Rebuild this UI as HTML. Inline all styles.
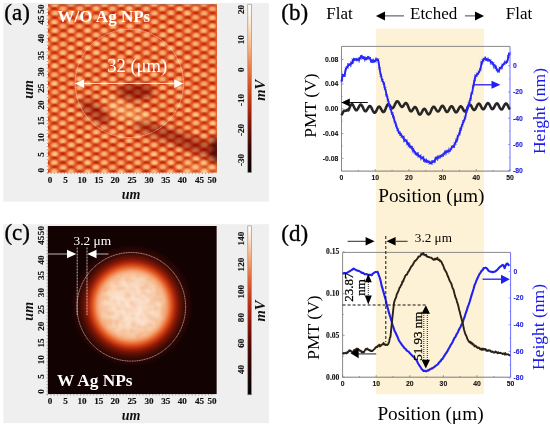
<!DOCTYPE html>
<html><head><meta charset="utf-8"><title>Figure</title>
<style>html,body{margin:0;padding:0;background:#fff;width:550px;height:428px;overflow:hidden}svg{display:block}</style>
</head><body><svg width="550" height="428" viewBox="0 0 550 428"><defs>
<radialGradient id="spot" cx="50%" cy="50%" r="50%">
 <stop offset="0" stop-color="#fdd09a"/>
 <stop offset="0.4" stop-color="#f9b479"/>
 <stop offset="0.72" stop-color="#ee8046" stop-opacity="0.8"/>
 <stop offset="1" stop-color="#e46630" stop-opacity="0"/>
</radialGradient>
<radialGradient id="dspot" cx="50%" cy="50%" r="50%">
 <stop offset="0" stop-color="#b81e04"/>
 <stop offset="0.5" stop-color="#c42c0a" stop-opacity="0.8"/>
 <stop offset="1" stop-color="#d84820" stop-opacity="0"/>
</radialGradient>
<ellipse id="bs" rx="5.3" ry="4.0" fill="url(#spot)"/>
<ellipse id="ds" rx="4.4" ry="2.8" fill="url(#dspot)"/>
<radialGradient id="tspot" cx="50%" cy="50%" r="50%"><stop offset="0" stop-color="#e8b890"/><stop offset="1" stop-color="#e8b890" stop-opacity="0"/></radialGradient>
<pattern id="tex" x="40" y="220" width="9" height="8" patternUnits="userSpaceOnUse">
 <ellipse cx="2.2" cy="2" rx="3" ry="2.2" fill="url(#tspot)"/>
 <ellipse cx="6.7" cy="6" rx="3" ry="2.2" fill="url(#tspot)"/>
</pattern>
<radialGradient id="texmask" cx="132" cy="305.5" r="40" gradientUnits="userSpaceOnUse"><stop offset="0" stop-color="#fff"/><stop offset="0.8" stop-color="#fff"/><stop offset="1" stop-color="#000"/></radialGradient>
<mask id="texm"><circle cx="132" cy="305.5" r="40" fill="url(#texmask)"/></mask>

<filter id="soft" x="0" y="0" width="100%" height="100%"><feGaussianBlur stdDeviation="0.7"/></filter>
<filter id="soft2" x="-10%" y="-10%" width="120%" height="120%"><feGaussianBlur stdDeviation="1.4"/></filter>
<filter id="blur3" x="-50%" y="-50%" width="200%" height="200%"><feGaussianBlur stdDeviation="3"/></filter>
<filter id="blur5" x="-50%" y="-50%" width="200%" height="200%"><feGaussianBlur stdDeviation="5"/></filter>
<filter id="blur8" x="-50%" y="-50%" width="200%" height="200%"><feGaussianBlur stdDeviation="8"/></filter>
<clipPath id="clipA"><rect x="48" y="4.3" width="169" height="168.5"/></clipPath>
<clipPath id="clipC"><rect x="47.6" y="226" width="169.2" height="168.3"/></clipPath>
<radialGradient id="blob" cx="132" cy="305.5" r="60" gradientUnits="userSpaceOnUse">
 <stop offset="0.000" stop-color="#fff3e8"/>
 <stop offset="0.200" stop-color="#feeee0"/>
 <stop offset="0.367" stop-color="#fde6d2"/>
 <stop offset="0.467" stop-color="#fcdcc0"/>
 <stop offset="0.533" stop-color="#f9c49c"/>
 <stop offset="0.583" stop-color="#f4a070"/>
 <stop offset="0.633" stop-color="#e86c34"/>
 <stop offset="0.683" stop-color="#cc4014"/>
 <stop offset="0.733" stop-color="#a02008"/>
 <stop offset="0.783" stop-color="#701406"/>
 <stop offset="0.850" stop-color="#440c04"/>
 <stop offset="0.917" stop-color="#2c0603"/>
 <stop offset="1.000" stop-color="#1a0302"/>
</radialGradient>
<linearGradient id="cbarC" x1="0" y1="0" x2="0" y2="1">
 <stop offset="0" stop-color="#ffffff"/>
 <stop offset="0.08" stop-color="#fbe2cc"/>
 <stop offset="0.2" stop-color="#f4a474"/>
 <stop offset="0.32" stop-color="#e26232"/>
 <stop offset="0.45" stop-color="#c03010"/>
 <stop offset="0.6" stop-color="#801004"/>
 <stop offset="0.75" stop-color="#400402"/>
 <stop offset="0.9" stop-color="#180000"/>
 <stop offset="1" stop-color="#000000"/>
</linearGradient>
<linearGradient id="cbarA" x1="0" y1="0" x2="0" y2="1">
 <stop offset="0" stop-color="#ffffff"/>
 <stop offset="0.12" stop-color="#fde6cc"/>
 <stop offset="0.25" stop-color="#f8b888"/>
 <stop offset="0.38" stop-color="#ec7a40"/>
 <stop offset="0.5" stop-color="#d44a1c"/>
 <stop offset="0.6" stop-color="#b82a0c"/>
 <stop offset="0.72" stop-color="#7c1206"/>
 <stop offset="0.85" stop-color="#380402"/>
 <stop offset="1" stop-color="#000000"/>
</linearGradient>
</defs>
<rect width="550" height="428" fill="#ffffff"/>
<rect x="3.3" y="3" width="265.7" height="198.7" fill="#efefef"/>
<rect x="3.3" y="224.2" width="265.7" height="199" fill="#efefef"/>
<g clip-path="url(#clipA)">
<g filter="url(#soft)">
<rect x="48" y="4.3" width="169" height="168.5" fill="#de5424"/>
<use href="#bs" x="46.26" y="-0.21" opacity="0.91"/>
<use href="#ds" x="54.36" y="0.02" opacity="0.81"/>
<use href="#bs" x="62.65" y="0" opacity="0.76"/>
<use href="#ds" x="71.25" y="-0.26" opacity="0.73"/>
<use href="#bs" x="79.54" y="0.2" opacity="0.78"/>
<use href="#ds" x="87.68" y="0.08" opacity="0.98"/>
<use href="#bs" x="96.26" y="-0.06" opacity="0.99"/>
<use href="#ds" x="104.14" y="0.22" opacity="0.79"/>
<use href="#bs" x="112.52" y="-0.23" opacity="0.83"/>
<use href="#ds" x="121.35" y="-0.19" opacity="0.87"/>
<use href="#bs" x="129.51" y="-0.08" opacity="0.89"/>
<use href="#ds" x="137.35" y="-0.26" opacity="0.76"/>
<use href="#bs" x="146.14" y="-0.04" opacity="0.83"/>
<use href="#ds" x="154.37" y="-0.03" opacity="0.79"/>
<use href="#bs" x="162.84" y="0.12" opacity="0.81"/>
<use href="#ds" x="170.96" y="0.02" opacity="0.96"/>
<use href="#bs" x="179.38" y="-0.13" opacity="1"/>
<use href="#ds" x="187.19" y="-0.05" opacity="0.93"/>
<use href="#bs" x="195.52" y="-0.01" opacity="0.76"/>
<use href="#ds" x="204.23" y="0.16" opacity="0.87"/>
<use href="#bs" x="212.7" y="-0.11" opacity="0.92"/>
<use href="#ds" x="220.78" y="0.05" opacity="0.84"/>
<use href="#bs" x="229.27" y="0.27" opacity="0.87"/>
<use href="#ds" x="46.53" y="4.14" opacity="0.91"/>
<use href="#bs" x="54.82" y="4.7" opacity="0.96"/>
<use href="#ds" x="62.83" y="4.33" opacity="0.9"/>
<use href="#bs" x="70.92" y="4.38" opacity="0.79"/>
<use href="#ds" x="79.29" y="4.14" opacity="0.93"/>
<use href="#bs" x="87.6" y="4.25" opacity="0.85"/>
<use href="#ds" x="96.5" y="4.15" opacity="0.83"/>
<use href="#bs" x="104.54" y="4.63" opacity="0.95"/>
<use href="#ds" x="113.09" y="4.27" opacity="0.82"/>
<use href="#bs" x="120.99" y="4.63" opacity="0.99"/>
<use href="#ds" x="129.12" y="4.21" opacity="0.77"/>
<use href="#bs" x="137.49" y="4.39" opacity="0.9"/>
<use href="#ds" x="145.81" y="4.1" opacity="0.83"/>
<use href="#bs" x="154.2" y="4.44" opacity="0.99"/>
<use href="#ds" x="162.75" y="4.41" opacity="0.89"/>
<use href="#bs" x="171.04" y="4.13" opacity="0.97"/>
<use href="#ds" x="179.42" y="4.62" opacity="0.94"/>
<use href="#bs" x="187.41" y="4.34" opacity="0.78"/>
<use href="#ds" x="195.91" y="4.14" opacity="0.72"/>
<use href="#bs" x="203.87" y="4.2" opacity="0.84"/>
<use href="#ds" x="212.04" y="4.1" opacity="0.75"/>
<use href="#bs" x="220.38" y="4.32" opacity="0.76"/>
<use href="#ds" x="229.3" y="4.47" opacity="0.74"/>
<use href="#bs" x="46.2" y="8.71" opacity="0.84"/>
<use href="#ds" x="54.4" y="9.01" opacity="1"/>
<use href="#bs" x="62.97" y="8.79" opacity="0.77"/>
<use href="#ds" x="70.98" y="8.71" opacity="0.78"/>
<use href="#bs" x="79.86" y="8.6" opacity="0.76"/>
<use href="#ds" x="88.26" y="8.82" opacity="0.74"/>
<use href="#bs" x="96.23" y="8.52" opacity="0.88"/>
<use href="#ds" x="104.88" y="9.02" opacity="0.91"/>
<use href="#bs" x="112.61" y="8.72" opacity="0.79"/>
<use href="#ds" x="121.32" y="8.82" opacity="0.93"/>
<use href="#bs" x="129.26" y="8.63" opacity="0.95"/>
<use href="#ds" x="138.09" y="9.01" opacity="0.94"/>
<use href="#bs" x="146.25" y="8.94" opacity="0.81"/>
<use href="#ds" x="154.31" y="8.71" opacity="0.71"/>
<use href="#bs" x="162.22" y="8.67" opacity="0.81"/>
<use href="#ds" x="171.05" y="9.07" opacity="0.83"/>
<use href="#bs" x="179.55" y="9.09" opacity="0.99"/>
<use href="#ds" x="187.39" y="8.63" opacity="0.77"/>
<use href="#bs" x="195.56" y="8.62" opacity="0.91"/>
<use href="#ds" x="204.42" y="9" opacity="0.84"/>
<use href="#bs" x="212.52" y="8.98" opacity="0.77"/>
<use href="#ds" x="220.83" y="9.05" opacity="0.93"/>
<use href="#bs" x="229.2" y="8.79" opacity="0.79"/>
<use href="#ds" x="46.63" y="13.1" opacity="0.94"/>
<use href="#bs" x="55.08" y="13.14" opacity="0.85"/>
<use href="#ds" x="63.36" y="13.33" opacity="0.75"/>
<use href="#bs" x="71" y="12.99" opacity="0.98"/>
<use href="#ds" x="79.85" y="12.99" opacity="0.95"/>
<use href="#bs" x="88.28" y="13.29" opacity="0.84"/>
<use href="#ds" x="96.24" y="12.98" opacity="0.7"/>
<use href="#bs" x="104.88" y="13.29" opacity="0.88"/>
<use href="#ds" x="113.15" y="13.16" opacity="0.96"/>
<use href="#bs" x="121.36" y="13.03" opacity="0.81"/>
<use href="#ds" x="129.23" y="13.04" opacity="0.88"/>
<use href="#bs" x="137.51" y="13.15" opacity="0.78"/>
<use href="#ds" x="146.33" y="13.11" opacity="0.84"/>
<use href="#bs" x="154.37" y="13.44" opacity="0.86"/>
<use href="#ds" x="162.93" y="13.2" opacity="0.86"/>
<use href="#bs" x="170.92" y="12.91" opacity="0.86"/>
<use href="#ds" x="178.95" y="12.9" opacity="0.94"/>
<use href="#bs" x="187.24" y="13.18" opacity="0.93"/>
<use href="#ds" x="195.85" y="13.1" opacity="0.86"/>
<use href="#bs" x="204.14" y="13.37" opacity="0.78"/>
<use href="#ds" x="212.45" y="13.05" opacity="0.78"/>
<use href="#bs" x="220.92" y="13.2" opacity="0.89"/>
<use href="#ds" x="229.21" y="13.45" opacity="0.83"/>
<use href="#bs" x="46.49" y="17.6" opacity="0.88"/>
<use href="#ds" x="54.85" y="17.57" opacity="0.86"/>
<use href="#bs" x="62.98" y="17.86" opacity="0.92"/>
<use href="#ds" x="71.6" y="17.87" opacity="0.78"/>
<use href="#bs" x="79.65" y="17.87" opacity="0.96"/>
<use href="#ds" x="87.61" y="17.37" opacity="0.83"/>
<use href="#bs" x="95.86" y="17.44" opacity="0.77"/>
<use href="#ds" x="104.64" y="17.77" opacity="0.97"/>
<use href="#bs" x="112.52" y="17.73" opacity="0.92"/>
<use href="#ds" x="120.81" y="17.83" opacity="0.99"/>
<use href="#bs" x="129.18" y="17.87" opacity="0.85"/>
<use href="#ds" x="137.69" y="17.89" opacity="0.95"/>
<use href="#bs" x="145.73" y="17.56" opacity="0.88"/>
<use href="#ds" x="154.17" y="17.42" opacity="0.8"/>
<use href="#bs" x="162.78" y="17.31" opacity="0.89"/>
<use href="#ds" x="170.85" y="17.31" opacity="0.8"/>
<use href="#bs" x="179.3" y="17.61" opacity="0.77"/>
<use href="#ds" x="187.89" y="17.77" opacity="0.99"/>
<use href="#bs" x="195.48" y="17.46" opacity="0.76"/>
<use href="#ds" x="204.32" y="17.46" opacity="0.74"/>
<use href="#bs" x="212.34" y="17.85" opacity="0.95"/>
<use href="#ds" x="220.51" y="17.39" opacity="0.98"/>
<use href="#bs" x="229.06" y="17.72" opacity="0.77"/>
<use href="#ds" x="46.05" y="22.11" opacity="0.83"/>
<use href="#bs" x="54.36" y="22.26" opacity="0.91"/>
<use href="#ds" x="63.24" y="21.75" opacity="0.96"/>
<use href="#bs" x="70.95" y="22.22" opacity="0.86"/>
<use href="#ds" x="79.47" y="22.03" opacity="0.98"/>
<use href="#bs" x="87.71" y="21.78" opacity="0.88"/>
<use href="#ds" x="95.99" y="21.77" opacity="0.75"/>
<use href="#bs" x="104.14" y="21.82" opacity="0.83"/>
<use href="#ds" x="112.64" y="22.16" opacity="0.79"/>
<use href="#bs" x="121.1" y="21.81" opacity="0.84"/>
<use href="#ds" x="129.01" y="21.85" opacity="0.7"/>
<use href="#bs" x="137.89" y="22.03" opacity="0.8"/>
<use href="#ds" x="145.98" y="22.26" opacity="0.73"/>
<use href="#bs" x="154.56" y="21.96" opacity="0.87"/>
<use href="#ds" x="162.87" y="21.94" opacity="0.85"/>
<use href="#bs" x="171.05" y="22.29" opacity="0.84"/>
<use href="#ds" x="179.47" y="22.12" opacity="0.89"/>
<use href="#bs" x="187.42" y="21.91" opacity="0.76"/>
<use href="#ds" x="195.5" y="21.74" opacity="0.92"/>
<use href="#bs" x="203.9" y="21.8" opacity="0.77"/>
<use href="#ds" x="212.67" y="22.22" opacity="0.9"/>
<use href="#bs" x="220.53" y="21.85" opacity="0.82"/>
<use href="#ds" x="228.97" y="21.79" opacity="0.83"/>
<use href="#bs" x="46.21" y="26.68" opacity="0.99"/>
<use href="#ds" x="54.74" y="26.25" opacity="0.99"/>
<use href="#bs" x="62.85" y="26.31" opacity="0.75"/>
<use href="#ds" x="71.21" y="26.38" opacity="0.85"/>
<use href="#bs" x="79.36" y="26.4" opacity="0.75"/>
<use href="#ds" x="87.71" y="26.15" opacity="0.82"/>
<use href="#bs" x="95.83" y="26.11" opacity="0.83"/>
<use href="#ds" x="104.29" y="26.45" opacity="0.86"/>
<use href="#bs" x="113" y="26.49" opacity="0.93"/>
<use href="#ds" x="121.4" y="26.33" opacity="0.8"/>
<use href="#bs" x="129.79" y="26.19" opacity="0.93"/>
<use href="#ds" x="137.81" y="26.13" opacity="0.95"/>
<use href="#bs" x="146.31" y="26.48" opacity="0.93"/>
<use href="#ds" x="154.55" y="26.18" opacity="0.86"/>
<use href="#bs" x="162.6" y="26.6" opacity="0.95"/>
<use href="#ds" x="171.16" y="26.45" opacity="0.97"/>
<use href="#bs" x="179.35" y="26.52" opacity="0.81"/>
<use href="#ds" x="187.12" y="26.18" opacity="0.81"/>
<use href="#bs" x="195.48" y="26.6" opacity="0.89"/>
<use href="#ds" x="204.2" y="26.48" opacity="0.9"/>
<use href="#bs" x="212.39" y="26.1" opacity="0.95"/>
<use href="#ds" x="220.9" y="26.4" opacity="0.86"/>
<use href="#bs" x="229.13" y="26.14" opacity="0.93"/>
<use href="#ds" x="46.2" y="30.54" opacity="0.78"/>
<use href="#bs" x="54.88" y="30.62" opacity="0.93"/>
<use href="#ds" x="63.38" y="30.8" opacity="0.81"/>
<use href="#bs" x="71.28" y="30.91" opacity="0.94"/>
<use href="#ds" x="79.69" y="30.89" opacity="0.72"/>
<use href="#bs" x="87.62" y="30.65" opacity="0.94"/>
<use href="#ds" x="96.04" y="30.84" opacity="0.7"/>
<use href="#bs" x="104.15" y="30.66" opacity="0.92"/>
<use href="#ds" x="112.95" y="30.91" opacity="0.79"/>
<use href="#bs" x="121.11" y="30.78" opacity="0.87"/>
<use href="#ds" x="129.09" y="31.04" opacity="0.76"/>
<use href="#bs" x="138.08" y="31.06" opacity="0.75"/>
<use href="#ds" x="145.97" y="30.99" opacity="0.99"/>
<use href="#bs" x="154.26" y="30.66" opacity="0.8"/>
<use href="#ds" x="162.96" y="30.63" opacity="0.87"/>
<use href="#bs" x="170.61" y="30.81" opacity="0.99"/>
<use href="#ds" x="178.91" y="30.99" opacity="0.85"/>
<use href="#bs" x="187.81" y="30.92" opacity="0.81"/>
<use href="#ds" x="196.12" y="30.79" opacity="0.71"/>
<use href="#bs" x="203.7" y="30.8" opacity="0.86"/>
<use href="#ds" x="212.24" y="30.58" opacity="0.8"/>
<use href="#bs" x="220.55" y="31" opacity="0.75"/>
<use href="#ds" x="229.2" y="31" opacity="0.74"/>
<use href="#bs" x="46.74" y="35.33" opacity="0.98"/>
<use href="#ds" x="54.53" y="35.12" opacity="0.82"/>
<use href="#bs" x="63.4" y="35.25" opacity="0.84"/>
<use href="#ds" x="71.24" y="35.07" opacity="0.71"/>
<use href="#bs" x="79.28" y="35.4" opacity="0.82"/>
<use href="#ds" x="88.25" y="35.05" opacity="0.78"/>
<use href="#bs" x="96.21" y="35.01" opacity="0.84"/>
<use href="#ds" x="104.86" y="35.43" opacity="0.94"/>
<use href="#bs" x="112.9" y="35.45" opacity="0.99"/>
<use href="#ds" x="121.14" y="35.33" opacity="0.71"/>
<use href="#bs" x="129.59" y="35.17" opacity="0.94"/>
<use href="#ds" x="137.82" y="35.07" opacity="0.71"/>
<use href="#bs" x="146.34" y="34.98" opacity="0.87"/>
<use href="#ds" x="154.17" y="35.08" opacity="0.92"/>
<use href="#bs" x="162.98" y="35.06" opacity="0.91"/>
<use href="#ds" x="170.74" y="35.23" opacity="0.82"/>
<use href="#bs" x="178.93" y="35" opacity="0.8"/>
<use href="#ds" x="187.82" y="35.2" opacity="0.77"/>
<use href="#bs" x="196.13" y="35.5" opacity="0.86"/>
<use href="#ds" x="203.81" y="35.02" opacity="0.73"/>
<use href="#bs" x="212.27" y="34.95" opacity="0.81"/>
<use href="#ds" x="220.51" y="35.24" opacity="0.97"/>
<use href="#bs" x="229.2" y="35.15" opacity="0.85"/>
<use href="#ds" x="46.42" y="39.53" opacity="0.8"/>
<use href="#bs" x="54.35" y="39.47" opacity="0.99"/>
<use href="#ds" x="62.7" y="39.6" opacity="0.89"/>
<use href="#bs" x="71.59" y="39.43" opacity="0.82"/>
<use href="#ds" x="79.4" y="39.54" opacity="0.83"/>
<use href="#bs" x="88.26" y="39.81" opacity="0.97"/>
<use href="#ds" x="95.82" y="39.32" opacity="0.91"/>
<use href="#bs" x="104.82" y="39.58" opacity="0.9"/>
<use href="#ds" x="112.4" y="39.53" opacity="0.98"/>
<use href="#bs" x="121.36" y="39.81" opacity="0.99"/>
<use href="#ds" x="129.2" y="39.37" opacity="0.75"/>
<use href="#bs" x="137.72" y="39.71" opacity="0.99"/>
<use href="#ds" x="146.18" y="39.69" opacity="0.93"/>
<use href="#bs" x="154.27" y="39.63" opacity="0.76"/>
<use href="#ds" x="162.83" y="39.44" opacity="0.98"/>
<use href="#bs" x="171.02" y="39.48" opacity="0.78"/>
<use href="#ds" x="179" y="39.68" opacity="0.91"/>
<use href="#bs" x="187.19" y="39.34" opacity="0.88"/>
<use href="#ds" x="195.87" y="39.53" opacity="0.77"/>
<use href="#bs" x="204.18" y="39.31" opacity="0.83"/>
<use href="#ds" x="212.37" y="39.88" opacity="0.89"/>
<use href="#bs" x="221.01" y="39.59" opacity="0.81"/>
<use href="#ds" x="228.8" y="39.88" opacity="0.91"/>
<use href="#bs" x="46.25" y="43.71" opacity="0.87"/>
<use href="#ds" x="54.84" y="43.95" opacity="0.78"/>
<use href="#bs" x="63.13" y="44.26" opacity="0.81"/>
<use href="#ds" x="70.93" y="43.9" opacity="0.83"/>
<use href="#bs" x="79.75" y="43.82" opacity="0.95"/>
<use href="#ds" x="88.09" y="44" opacity="0.76"/>
<use href="#bs" x="96.58" y="43.89" opacity="0.96"/>
<use href="#ds" x="104.28" y="43.83" opacity="0.93"/>
<use href="#bs" x="112.64" y="44.27" opacity="0.87"/>
<use href="#ds" x="120.85" y="43.83" opacity="0.83"/>
<use href="#bs" x="129.53" y="44.27" opacity="0.79"/>
<use href="#ds" x="137.61" y="43.83" opacity="0.99"/>
<use href="#bs" x="145.71" y="43.73" opacity="0.77"/>
<use href="#ds" x="154.21" y="44.24" opacity="0.97"/>
<use href="#bs" x="162.79" y="44.3" opacity="0.98"/>
<use href="#ds" x="170.76" y="43.81" opacity="0.98"/>
<use href="#bs" x="179.4" y="43.72" opacity="0.92"/>
<use href="#ds" x="187.4" y="43.92" opacity="0.8"/>
<use href="#bs" x="195.54" y="43.7" opacity="0.82"/>
<use href="#ds" x="203.98" y="44.27" opacity="0.74"/>
<use href="#bs" x="212.77" y="43.82" opacity="0.84"/>
<use href="#ds" x="220.96" y="44.19" opacity="0.83"/>
<use href="#bs" x="228.64" y="43.98" opacity="0.84"/>
<use href="#ds" x="46.74" y="48.22" opacity="0.81"/>
<use href="#bs" x="55.02" y="48.12" opacity="0.85"/>
<use href="#ds" x="63.25" y="48.56" opacity="0.71"/>
<use href="#bs" x="70.93" y="48.14" opacity="0.98"/>
<use href="#ds" x="79.41" y="48.55" opacity="0.97"/>
<use href="#bs" x="87.77" y="48.26" opacity="0.99"/>
<use href="#ds" x="96.29" y="48.26" opacity="0.91"/>
<use href="#bs" x="104.35" y="48.27" opacity="0.75"/>
<use href="#ds" x="113" y="48.65" opacity="0.89"/>
<use href="#bs" x="121.45" y="48.11" opacity="0.81"/>
<use href="#ds" x="129.38" y="48.67" opacity="0.99"/>
<use href="#bs" x="137.61" y="48.25" opacity="0.86"/>
<use href="#ds" x="145.99" y="48.66" opacity="0.75"/>
<use href="#bs" x="154.54" y="48.54" opacity="0.96"/>
<use href="#ds" x="162.82" y="48.46" opacity="0.8"/>
<use href="#bs" x="170.76" y="48.32" opacity="0.95"/>
<use href="#ds" x="178.86" y="48.22" opacity="0.93"/>
<use href="#bs" x="187.3" y="48.14" opacity="0.76"/>
<use href="#ds" x="195.84" y="48.3" opacity="0.99"/>
<use href="#bs" x="204.41" y="48.69" opacity="0.82"/>
<use href="#ds" x="212.07" y="48.16" opacity="0.85"/>
<use href="#bs" x="220.87" y="48.37" opacity="0.81"/>
<use href="#ds" x="228.93" y="48.47" opacity="0.9"/>
<use href="#bs" x="46.6" y="53.01" opacity="0.92"/>
<use href="#ds" x="54.4" y="53" opacity="0.79"/>
<use href="#bs" x="63.05" y="52.72" opacity="0.93"/>
<use href="#ds" x="71.06" y="52.65" opacity="0.77"/>
<use href="#bs" x="79.32" y="53.03" opacity="0.89"/>
<use href="#ds" x="87.76" y="52.74" opacity="1"/>
<use href="#bs" x="96.21" y="52.64" opacity="0.95"/>
<use href="#ds" x="104.62" y="53.09" opacity="0.73"/>
<use href="#bs" x="112.78" y="52.99" opacity="0.96"/>
<use href="#ds" x="121.43" y="52.52" opacity="0.79"/>
<use href="#bs" x="129.1" y="52.61" opacity="0.99"/>
<use href="#ds" x="137.77" y="53.06" opacity="0.81"/>
<use href="#bs" x="146.29" y="52.77" opacity="0.81"/>
<use href="#ds" x="154.52" y="53.07" opacity="0.73"/>
<use href="#bs" x="162.68" y="52.87" opacity="0.8"/>
<use href="#ds" x="170.79" y="52.58" opacity="0.76"/>
<use href="#bs" x="179" y="52.86" opacity="0.91"/>
<use href="#ds" x="187.26" y="52.51" opacity="0.8"/>
<use href="#bs" x="195.94" y="52.61" opacity="0.83"/>
<use href="#ds" x="203.86" y="52.98" opacity="0.86"/>
<use href="#bs" x="212.05" y="52.56" opacity="0.85"/>
<use href="#ds" x="220.74" y="52.88" opacity="0.73"/>
<use href="#bs" x="228.73" y="52.92" opacity="0.85"/>
<use href="#ds" x="46.23" y="57.08" opacity="0.99"/>
<use href="#bs" x="54.55" y="57.24" opacity="0.84"/>
<use href="#ds" x="62.93" y="57.42" opacity="1"/>
<use href="#bs" x="71.19" y="57.02" opacity="0.93"/>
<use href="#ds" x="79.36" y="56.9" opacity="0.97"/>
<use href="#bs" x="87.84" y="57.39" opacity="0.85"/>
<use href="#ds" x="96.51" y="57.18" opacity="0.75"/>
<use href="#bs" x="104.11" y="57.23" opacity="0.91"/>
<use href="#ds" x="113.13" y="56.95" opacity="0.89"/>
<use href="#bs" x="121" y="57.2" opacity="0.79"/>
<use href="#ds" x="129.23" y="57.21" opacity="0.98"/>
<use href="#bs" x="137.39" y="57.19" opacity="0.95"/>
<use href="#ds" x="146.37" y="57.02" opacity="0.74"/>
<use href="#bs" x="154.65" y="57.49" opacity="0.87"/>
<use href="#ds" x="162.24" y="57.46" opacity="0.82"/>
<use href="#bs" x="171.22" y="57.27" opacity="0.96"/>
<use href="#ds" x="178.93" y="57.37" opacity="0.77"/>
<use href="#bs" x="187.42" y="57.41" opacity="0.96"/>
<use href="#ds" x="195.55" y="57.03" opacity="0.82"/>
<use href="#bs" x="204.11" y="57.13" opacity="0.78"/>
<use href="#ds" x="212.2" y="57.33" opacity="0.97"/>
<use href="#bs" x="220.33" y="57.24" opacity="0.94"/>
<use href="#ds" x="228.63" y="57.4" opacity="0.74"/>
<use href="#bs" x="46.48" y="61.63" opacity="0.91"/>
<use href="#ds" x="54.54" y="61.55" opacity="0.87"/>
<use href="#bs" x="62.94" y="61.7" opacity="0.86"/>
<use href="#ds" x="71.25" y="61.31" opacity="0.89"/>
<use href="#bs" x="79.59" y="61.44" opacity="0.94"/>
<use href="#ds" x="88.12" y="61.57" opacity="0.75"/>
<use href="#bs" x="96.18" y="61.36" opacity="0.78"/>
<use href="#ds" x="104.44" y="61.36" opacity="0.83"/>
<use href="#bs" x="112.81" y="61.32" opacity="0.91"/>
<use href="#ds" x="120.77" y="61.74" opacity="0.93"/>
<use href="#bs" x="129.41" y="61.33" opacity="0.88"/>
<use href="#ds" x="137.6" y="61.87" opacity="0.74"/>
<use href="#bs" x="146.29" y="61.9" opacity="0.93"/>
<use href="#ds" x="154.55" y="61.42" opacity="0.99"/>
<use href="#bs" x="162.59" y="61.87" opacity="0.98"/>
<use href="#ds" x="170.63" y="61.77" opacity="0.98"/>
<use href="#bs" x="178.85" y="61.51" opacity="0.94"/>
<use href="#ds" x="187.23" y="61.84" opacity="0.78"/>
<use href="#bs" x="196.05" y="61.39" opacity="0.88"/>
<use href="#ds" x="204.44" y="61.42" opacity="0.78"/>
<use href="#bs" x="212.4" y="61.49" opacity="0.76"/>
<use href="#ds" x="220.45" y="61.4" opacity="0.98"/>
<use href="#bs" x="229.14" y="61.84" opacity="0.79"/>
<use href="#ds" x="46.63" y="65.77" opacity="0.86"/>
<use href="#bs" x="54.81" y="65.92" opacity="0.97"/>
<use href="#ds" x="63.04" y="66.05" opacity="0.96"/>
<use href="#bs" x="70.98" y="66.3" opacity="0.91"/>
<use href="#ds" x="79.52" y="66.18" opacity="0.78"/>
<use href="#bs" x="88.29" y="66.05" opacity="0.84"/>
<use href="#ds" x="96.41" y="65.97" opacity="0.75"/>
<use href="#bs" x="104.69" y="65.73" opacity="0.95"/>
<use href="#ds" x="112.6" y="66.08" opacity="1"/>
<use href="#bs" x="121.17" y="66.1" opacity="0.83"/>
<use href="#ds" x="129" y="65.72" opacity="0.74"/>
<use href="#bs" x="137.79" y="65.96" opacity="0.88"/>
<use href="#ds" x="146.32" y="65.78" opacity="0.77"/>
<use href="#bs" x="154.42" y="65.71" opacity="0.75"/>
<use href="#ds" x="162.48" y="65.76" opacity="0.81"/>
<use href="#bs" x="170.68" y="66.05" opacity="0.9"/>
<use href="#ds" x="178.96" y="66.07" opacity="0.84"/>
<use href="#bs" x="187.21" y="66.26" opacity="0.81"/>
<use href="#ds" x="195.52" y="65.76" opacity="0.89"/>
<use href="#bs" x="204.4" y="66.17" opacity="0.85"/>
<use href="#ds" x="212.21" y="65.71" opacity="0.89"/>
<use href="#bs" x="220.75" y="65.91" opacity="0.91"/>
<use href="#ds" x="228.96" y="66.26" opacity="0.92"/>
<use href="#bs" x="46.2" y="70.64" opacity="0.76"/>
<use href="#ds" x="54.73" y="70.34" opacity="0.77"/>
<use href="#bs" x="62.65" y="70.57" opacity="0.75"/>
<use href="#ds" x="71.34" y="70.66" opacity="0.74"/>
<use href="#bs" x="79.36" y="70.46" opacity="0.88"/>
<use href="#ds" x="88.01" y="70.59" opacity="0.75"/>
<use href="#bs" x="96.05" y="70.28" opacity="0.76"/>
<use href="#ds" x="104.81" y="70.57" opacity="0.91"/>
<use href="#bs" x="112.41" y="70.61" opacity="0.94"/>
<use href="#ds" x="121.07" y="70.55" opacity="0.84"/>
<use href="#bs" x="129.18" y="70.16" opacity="0.81"/>
<use href="#ds" x="137.33" y="70.3" opacity="0.92"/>
<use href="#bs" x="146.16" y="70.61" opacity="0.93"/>
<use href="#ds" x="154.11" y="70.43" opacity="0.83"/>
<use href="#bs" x="162.83" y="70.41" opacity="0.82"/>
<use href="#ds" x="171.01" y="70.68" opacity="0.77"/>
<use href="#bs" x="179.5" y="70.11" opacity="0.82"/>
<use href="#ds" x="187.29" y="70.55" opacity="0.98"/>
<use href="#bs" x="196" y="70.3" opacity="0.97"/>
<use href="#ds" x="203.96" y="70.24" opacity="0.97"/>
<use href="#bs" x="212.5" y="70.52" opacity="0.92"/>
<use href="#ds" x="221.08" y="70.38" opacity="0.95"/>
<use href="#bs" x="229.16" y="70.61" opacity="0.86"/>
<use href="#ds" x="46.58" y="74.84" opacity="0.79"/>
<use href="#bs" x="54.47" y="74.87" opacity="0.77"/>
<use href="#ds" x="63.33" y="74.59" opacity="0.71"/>
<use href="#bs" x="70.99" y="75.06" opacity="0.84"/>
<use href="#ds" x="79.31" y="74.52" opacity="0.71"/>
<use href="#bs" x="88.05" y="74.88" opacity="0.92"/>
<use href="#ds" x="96.39" y="74.54" opacity="0.88"/>
<use href="#bs" x="104.39" y="74.99" opacity="0.95"/>
<use href="#ds" x="113.11" y="74.54" opacity="0.96"/>
<use href="#bs" x="121.43" y="75.07" opacity="0.78"/>
<use href="#ds" x="129.16" y="74.57" opacity="0.71"/>
<use href="#bs" x="137.98" y="74.99" opacity="0.91"/>
<use href="#ds" x="146.26" y="74.88" opacity="0.79"/>
<use href="#bs" x="153.98" y="74.56" opacity="0.94"/>
<use href="#ds" x="162.36" y="74.69" opacity="0.83"/>
<use href="#bs" x="170.52" y="74.65" opacity="0.82"/>
<use href="#ds" x="179.37" y="74.72" opacity="0.8"/>
<use href="#bs" x="187.87" y="74.8" opacity="0.96"/>
<use href="#ds" x="195.89" y="74.52" opacity="0.82"/>
<use href="#bs" x="204.05" y="74.96" opacity="0.84"/>
<use href="#ds" x="212.56" y="74.82" opacity="0.76"/>
<use href="#bs" x="220.99" y="74.55" opacity="0.95"/>
<use href="#ds" x="228.74" y="74.5" opacity="0.76"/>
<use href="#bs" x="46.61" y="79.49" opacity="0.75"/>
<use href="#ds" x="54.69" y="79.19" opacity="0.94"/>
<use href="#bs" x="62.75" y="79.2" opacity="0.84"/>
<use href="#ds" x="71.57" y="79.06" opacity="0.98"/>
<use href="#bs" x="79.43" y="79.03" opacity="0.92"/>
<use href="#ds" x="87.9" y="78.97" opacity="0.89"/>
<use href="#bs" x="95.86" y="79.37" opacity="0.92"/>
<use href="#ds" x="104.73" y="79.28" opacity="0.81"/>
<use href="#bs" x="112.72" y="79.14" opacity="0.97"/>
<use href="#ds" x="120.77" y="79.43" opacity="0.71"/>
<use href="#bs" x="129.16" y="79.06" opacity="0.98"/>
<use href="#ds" x="137.7" y="79.13" opacity="0.97"/>
<use href="#bs" x="145.79" y="79.18" opacity="0.88"/>
<use href="#ds" x="154.5" y="79.35" opacity="0.89"/>
<use href="#bs" x="162.48" y="79.1" opacity="0.79"/>
<use href="#ds" x="171.17" y="79.3" opacity="0.92"/>
<use href="#bs" x="178.94" y="79.16" opacity="0.94"/>
<use href="#ds" x="187.56" y="78.98" opacity="0.84"/>
<use href="#bs" x="196.11" y="79.04" opacity="0.8"/>
<use href="#ds" x="203.94" y="79.32" opacity="0.95"/>
<use href="#bs" x="212.12" y="78.99" opacity="0.81"/>
<use href="#ds" x="220.56" y="79.21" opacity="0.75"/>
<use href="#bs" x="228.86" y="79.01" opacity="0.99"/>
<use href="#ds" x="46.58" y="83.36" opacity="0.99"/>
<use href="#bs" x="54.38" y="83.53" opacity="1"/>
<use href="#ds" x="63.24" y="83.74" opacity="0.83"/>
<use href="#bs" x="71.06" y="83.68" opacity="0.78"/>
<use href="#ds" x="79.37" y="83.53" opacity="0.71"/>
<use href="#bs" x="87.82" y="83.77" opacity="0.92"/>
<use href="#ds" x="96.2" y="83.68" opacity="0.84"/>
<use href="#bs" x="104.21" y="83.66" opacity="0.85"/>
<use href="#ds" x="112.99" y="83.84" opacity="0.83"/>
<use href="#bs" x="121.16" y="83.75" opacity="0.86"/>
<use href="#ds" x="129.18" y="83.73" opacity="0.96"/>
<use href="#bs" x="137.92" y="83.72" opacity="0.96"/>
<use href="#ds" x="146.14" y="83.68" opacity="0.84"/>
<use href="#bs" x="154.15" y="83.68" opacity="0.77"/>
<use href="#ds" x="162.54" y="83.77" opacity="0.91"/>
<use href="#bs" x="171" y="83.45" opacity="0.86"/>
<use href="#ds" x="179.16" y="83.67" opacity="0.82"/>
<use href="#bs" x="187.64" y="83.86" opacity="0.8"/>
<use href="#ds" x="195.92" y="83.77" opacity="0.82"/>
<use href="#bs" x="204.09" y="83.88" opacity="0.76"/>
<use href="#ds" x="212.43" y="83.4" opacity="0.93"/>
<use href="#bs" x="221.05" y="83.61" opacity="0.78"/>
<use href="#ds" x="229.06" y="83.62" opacity="0.92"/>
<use href="#bs" x="46.41" y="88.08" opacity="0.96"/>
<use href="#ds" x="54.72" y="87.95" opacity="0.98"/>
<use href="#bs" x="62.77" y="88.11" opacity="0.85"/>
<use href="#ds" x="71.51" y="87.77" opacity="1"/>
<use href="#bs" x="79.48" y="87.73" opacity="0.82"/>
<use href="#ds" x="87.82" y="87.71" opacity="0.83"/>
<use href="#bs" x="96.14" y="88.12" opacity="0.84"/>
<use href="#ds" x="104.31" y="87.83" opacity="0.92"/>
<use href="#bs" x="113.15" y="88.02" opacity="0.8"/>
<use href="#ds" x="121.34" y="87.94" opacity="0.76"/>
<use href="#bs" x="129.1" y="88.17" opacity="0.95"/>
<use href="#ds" x="137.81" y="87.98" opacity="0.87"/>
<use href="#bs" x="145.78" y="88.28" opacity="0.84"/>
<use href="#ds" x="154.41" y="88.19" opacity="0.94"/>
<use href="#bs" x="162.57" y="87.88" opacity="0.89"/>
<use href="#ds" x="170.6" y="88.2" opacity="0.81"/>
<use href="#bs" x="179.48" y="87.86" opacity="0.84"/>
<use href="#ds" x="187.3" y="87.96" opacity="0.76"/>
<use href="#bs" x="195.4" y="88.13" opacity="0.82"/>
<use href="#ds" x="203.9" y="87.88" opacity="0.84"/>
<use href="#bs" x="212.34" y="88.08" opacity="0.91"/>
<use href="#ds" x="220.59" y="88.26" opacity="0.96"/>
<use href="#bs" x="228.65" y="88.2" opacity="0.98"/>
<use href="#ds" x="46.63" y="92.18" opacity="0.95"/>
<use href="#bs" x="54.81" y="92.11" opacity="0.75"/>
<use href="#ds" x="63.36" y="92.49" opacity="0.78"/>
<use href="#bs" x="70.98" y="92.19" opacity="0.81"/>
<use href="#ds" x="79.82" y="92.31" opacity="0.75"/>
<use href="#bs" x="88.22" y="92.58" opacity="0.79"/>
<use href="#ds" x="96.51" y="92.47" opacity="0.93"/>
<use href="#bs" x="104.63" y="92.64" opacity="0.95"/>
<use href="#ds" x="113.07" y="92.22" opacity="0.91"/>
<use href="#bs" x="121.12" y="92.55" opacity="0.86"/>
<use href="#ds" x="129.71" y="92.43" opacity="0.78"/>
<use href="#bs" x="137.49" y="92.18" opacity="0.87"/>
<use href="#ds" x="145.65" y="92.38" opacity="0.74"/>
<use href="#bs" x="154.29" y="92.4" opacity="0.88"/>
<use href="#ds" x="162.89" y="92.1" opacity="0.95"/>
<use href="#bs" x="170.87" y="92.44" opacity="0.92"/>
<use href="#ds" x="179.47" y="92.32" opacity="0.83"/>
<use href="#bs" x="187.87" y="92.15" opacity="0.91"/>
<use href="#ds" x="195.91" y="92.12" opacity="0.88"/>
<use href="#bs" x="204.25" y="92.66" opacity="0.83"/>
<use href="#ds" x="212.79" y="92.41" opacity="0.85"/>
<use href="#bs" x="221.02" y="92.12" opacity="0.93"/>
<use href="#ds" x="229.1" y="92.3" opacity="0.96"/>
<use href="#bs" x="46.29" y="96.78" opacity="0.88"/>
<use href="#ds" x="54.92" y="96.63" opacity="0.83"/>
<use href="#bs" x="62.94" y="96.83" opacity="0.96"/>
<use href="#ds" x="71.13" y="97" opacity="0.82"/>
<use href="#bs" x="79.6" y="96.66" opacity="0.88"/>
<use href="#ds" x="88.28" y="96.89" opacity="0.94"/>
<use href="#bs" x="96.06" y="96.69" opacity="0.82"/>
<use href="#ds" x="104.57" y="96.88" opacity="0.94"/>
<use href="#bs" x="112.43" y="96.93" opacity="0.97"/>
<use href="#ds" x="121.14" y="96.53" opacity="0.79"/>
<use href="#bs" x="129" y="96.61" opacity="0.98"/>
<use href="#ds" x="137.79" y="96.89" opacity="0.94"/>
<use href="#bs" x="146.33" y="96.87" opacity="0.9"/>
<use href="#ds" x="154.4" y="96.92" opacity="0.88"/>
<use href="#bs" x="162.74" y="96.63" opacity="0.92"/>
<use href="#ds" x="170.87" y="96.96" opacity="0.73"/>
<use href="#bs" x="178.95" y="96.52" opacity="0.94"/>
<use href="#ds" x="187.83" y="96.89" opacity="0.81"/>
<use href="#bs" x="196.06" y="96.97" opacity="0.89"/>
<use href="#ds" x="203.91" y="96.68" opacity="0.83"/>
<use href="#bs" x="212.25" y="96.76" opacity="0.91"/>
<use href="#ds" x="221.05" y="96.53" opacity="0.87"/>
<use href="#bs" x="228.63" y="96.57" opacity="0.95"/>
<use href="#ds" x="46.46" y="101.45" opacity="0.83"/>
<use href="#bs" x="54.31" y="101.13" opacity="0.9"/>
<use href="#ds" x="63.35" y="101.49" opacity="0.84"/>
<use href="#bs" x="71.23" y="100.96" opacity="0.91"/>
<use href="#ds" x="79.37" y="100.99" opacity="0.7"/>
<use href="#bs" x="87.5" y="101.31" opacity="0.78"/>
<use href="#ds" x="96.57" y="100.95" opacity="0.96"/>
<use href="#bs" x="104.2" y="100.91" opacity="0.93"/>
<use href="#ds" x="112.59" y="101.34" opacity="0.76"/>
<use href="#bs" x="120.74" y="101.36" opacity="0.93"/>
<use href="#ds" x="129.68" y="101.34" opacity="0.73"/>
<use href="#bs" x="137.8" y="101.33" opacity="0.87"/>
<use href="#ds" x="146.35" y="101.05" opacity="0.99"/>
<use href="#bs" x="154.47" y="100.91" opacity="0.75"/>
<use href="#ds" x="162.72" y="101.39" opacity="0.72"/>
<use href="#bs" x="170.75" y="101.34" opacity="0.79"/>
<use href="#ds" x="179.49" y="101.19" opacity="0.72"/>
<use href="#bs" x="187.39" y="101.24" opacity="0.86"/>
<use href="#ds" x="195.94" y="100.99" opacity="0.94"/>
<use href="#bs" x="203.99" y="101.29" opacity="0.91"/>
<use href="#ds" x="212.33" y="101.13" opacity="0.94"/>
<use href="#bs" x="221.06" y="101.37" opacity="0.89"/>
<use href="#ds" x="228.83" y="100.94" opacity="0.99"/>
<use href="#bs" x="46.56" y="105.8" opacity="0.83"/>
<use href="#ds" x="54.78" y="105.89" opacity="0.95"/>
<use href="#bs" x="63.08" y="105.49" opacity="0.86"/>
<use href="#ds" x="71.61" y="105.53" opacity="0.91"/>
<use href="#bs" x="79.68" y="105.84" opacity="0.95"/>
<use href="#ds" x="87.73" y="105.3" opacity="0.78"/>
<use href="#bs" x="96.14" y="105.65" opacity="0.95"/>
<use href="#ds" x="104.81" y="105.33" opacity="0.95"/>
<use href="#bs" x="113.05" y="105.82" opacity="0.89"/>
<use href="#ds" x="120.92" y="105.81" opacity="0.94"/>
<use href="#bs" x="129.55" y="105.85" opacity="0.84"/>
<use href="#ds" x="137.37" y="105.63" opacity="0.94"/>
<use href="#bs" x="145.76" y="105.75" opacity="0.98"/>
<use href="#ds" x="154.09" y="105.66" opacity="0.9"/>
<use href="#bs" x="162.57" y="105.42" opacity="0.81"/>
<use href="#ds" x="171.1" y="105.77" opacity="0.84"/>
<use href="#bs" x="178.87" y="105.78" opacity="0.94"/>
<use href="#ds" x="187.29" y="105.65" opacity="0.97"/>
<use href="#bs" x="196.11" y="105.61" opacity="0.87"/>
<use href="#ds" x="204.17" y="105.41" opacity="0.76"/>
<use href="#bs" x="212.14" y="105.72" opacity="0.84"/>
<use href="#ds" x="220.75" y="105.54" opacity="0.86"/>
<use href="#bs" x="228.72" y="105.33" opacity="1"/>
<use href="#ds" x="46.3" y="109.76" opacity="0.89"/>
<use href="#bs" x="54.93" y="109.79" opacity="0.9"/>
<use href="#ds" x="62.88" y="110.01" opacity="0.71"/>
<use href="#bs" x="70.93" y="110.29" opacity="0.97"/>
<use href="#ds" x="79.59" y="110.04" opacity="0.78"/>
<use href="#bs" x="88.12" y="109.96" opacity="0.99"/>
<use href="#ds" x="96.41" y="110.19" opacity="0.99"/>
<use href="#bs" x="104.3" y="109.72" opacity="0.8"/>
<use href="#ds" x="112.54" y="109.75" opacity="0.72"/>
<use href="#bs" x="121.15" y="110.22" opacity="0.86"/>
<use href="#ds" x="129.76" y="110.25" opacity="0.72"/>
<use href="#bs" x="137.78" y="109.94" opacity="0.78"/>
<use href="#ds" x="146.37" y="109.85" opacity="0.87"/>
<use href="#bs" x="154.41" y="110.27" opacity="0.92"/>
<use href="#ds" x="162.51" y="109.97" opacity="0.75"/>
<use href="#bs" x="171.27" y="110.3" opacity="0.81"/>
<use href="#ds" x="178.83" y="109.85" opacity="0.81"/>
<use href="#bs" x="187.82" y="110.24" opacity="0.96"/>
<use href="#ds" x="195.44" y="110.17" opacity="0.91"/>
<use href="#bs" x="204.22" y="110.29" opacity="0.76"/>
<use href="#ds" x="212.12" y="110.15" opacity="0.98"/>
<use href="#bs" x="220.84" y="109.88" opacity="0.9"/>
<use href="#ds" x="229.21" y="109.76" opacity="0.8"/>
<use href="#bs" x="46.21" y="114.17" opacity="0.87"/>
<use href="#ds" x="54.43" y="114.24" opacity="0.74"/>
<use href="#bs" x="63.14" y="114.11" opacity="0.93"/>
<use href="#ds" x="71.06" y="114.12" opacity="0.98"/>
<use href="#bs" x="79.38" y="114.66" opacity="0.97"/>
<use href="#ds" x="88.21" y="114.18" opacity="0.83"/>
<use href="#bs" x="95.88" y="114.66" opacity="0.96"/>
<use href="#ds" x="104.6" y="114.37" opacity="0.8"/>
<use href="#bs" x="113.06" y="114.39" opacity="0.91"/>
<use href="#ds" x="120.81" y="114.23" opacity="0.72"/>
<use href="#bs" x="129.57" y="114.43" opacity="0.79"/>
<use href="#ds" x="138" y="114.26" opacity="0.82"/>
<use href="#bs" x="145.72" y="114.26" opacity="0.96"/>
<use href="#ds" x="154.17" y="114.2" opacity="0.85"/>
<use href="#bs" x="162.45" y="114.64" opacity="0.78"/>
<use href="#ds" x="171.28" y="114.13" opacity="0.97"/>
<use href="#bs" x="179.33" y="114.23" opacity="0.87"/>
<use href="#ds" x="187.33" y="114.25" opacity="0.76"/>
<use href="#bs" x="195.69" y="114.69" opacity="1"/>
<use href="#ds" x="204.44" y="114.16" opacity="0.79"/>
<use href="#bs" x="212.72" y="114.13" opacity="0.93"/>
<use href="#ds" x="220.53" y="114.69" opacity="0.7"/>
<use href="#bs" x="229.25" y="114.3" opacity="0.79"/>
<use href="#ds" x="46" y="119" opacity="0.86"/>
<use href="#bs" x="54.45" y="118.76" opacity="0.98"/>
<use href="#ds" x="62.77" y="118.84" opacity="0.74"/>
<use href="#bs" x="71.04" y="118.96" opacity="0.93"/>
<use href="#ds" x="79.36" y="118.55" opacity="0.73"/>
<use href="#bs" x="87.99" y="118.8" opacity="0.82"/>
<use href="#ds" x="95.96" y="118.87" opacity="0.91"/>
<use href="#bs" x="104.75" y="118.85" opacity="0.8"/>
<use href="#ds" x="112.45" y="118.94" opacity="0.82"/>
<use href="#bs" x="121.28" y="118.53" opacity="0.95"/>
<use href="#ds" x="129.27" y="119.01" opacity="0.96"/>
<use href="#bs" x="137.69" y="118.51" opacity="0.98"/>
<use href="#ds" x="145.98" y="119.02" opacity="0.78"/>
<use href="#bs" x="154.05" y="119" opacity="0.84"/>
<use href="#ds" x="162.33" y="118.72" opacity="0.88"/>
<use href="#bs" x="170.5" y="118.81" opacity="0.86"/>
<use href="#ds" x="179.21" y="118.57" opacity="0.91"/>
<use href="#bs" x="187.75" y="119.02" opacity="0.83"/>
<use href="#ds" x="195.97" y="118.73" opacity="0.93"/>
<use href="#bs" x="203.75" y="119.02" opacity="0.99"/>
<use href="#ds" x="212.4" y="118.81" opacity="0.86"/>
<use href="#bs" x="220.73" y="118.51" opacity="0.99"/>
<use href="#ds" x="228.78" y="118.61" opacity="0.73"/>
<use href="#bs" x="46.2" y="123.39" opacity="0.76"/>
<use href="#ds" x="54.38" y="123.32" opacity="0.76"/>
<use href="#bs" x="62.61" y="123.26" opacity="0.89"/>
<use href="#ds" x="71.32" y="123.32" opacity="0.73"/>
<use href="#bs" x="79.9" y="123.33" opacity="0.76"/>
<use href="#ds" x="87.6" y="123.2" opacity="0.85"/>
<use href="#bs" x="96.02" y="122.97" opacity="0.85"/>
<use href="#ds" x="104.21" y="123.26" opacity="0.96"/>
<use href="#bs" x="112.52" y="123.24" opacity="0.94"/>
<use href="#ds" x="120.83" y="123.4" opacity="0.98"/>
<use href="#bs" x="129.31" y="123.15" opacity="0.96"/>
<use href="#ds" x="137.72" y="123.14" opacity="0.98"/>
<use href="#bs" x="146.22" y="123.1" opacity="0.81"/>
<use href="#ds" x="154.17" y="123.16" opacity="0.99"/>
<use href="#bs" x="162.84" y="123.45" opacity="0.95"/>
<use href="#ds" x="171.18" y="122.93" opacity="0.86"/>
<use href="#bs" x="179.57" y="123.46" opacity="0.81"/>
<use href="#ds" x="187.44" y="123.28" opacity="0.81"/>
<use href="#bs" x="195.82" y="122.94" opacity="0.86"/>
<use href="#ds" x="204.1" y="122.91" opacity="0.74"/>
<use href="#bs" x="212.78" y="123.37" opacity="0.98"/>
<use href="#ds" x="220.81" y="123.39" opacity="0.97"/>
<use href="#bs" x="229.31" y="122.92" opacity="0.91"/>
<use href="#ds" x="46.21" y="127.71" opacity="0.78"/>
<use href="#bs" x="54.73" y="127.85" opacity="0.91"/>
<use href="#ds" x="62.8" y="127.61" opacity="0.83"/>
<use href="#bs" x="71.66" y="127.47" opacity="0.83"/>
<use href="#ds" x="79.72" y="127.37" opacity="0.88"/>
<use href="#bs" x="88.26" y="127.61" opacity="0.82"/>
<use href="#ds" x="96.17" y="127.62" opacity="0.74"/>
<use href="#bs" x="104.2" y="127.38" opacity="0.82"/>
<use href="#ds" x="112.73" y="127.47" opacity="0.77"/>
<use href="#bs" x="120.77" y="127.63" opacity="0.96"/>
<use href="#ds" x="129.49" y="127.64" opacity="0.9"/>
<use href="#bs" x="137.46" y="127.73" opacity="0.87"/>
<use href="#ds" x="146.04" y="127.67" opacity="0.84"/>
<use href="#bs" x="154.15" y="127.45" opacity="0.81"/>
<use href="#ds" x="162.61" y="127.53" opacity="0.88"/>
<use href="#bs" x="170.51" y="127.51" opacity="0.97"/>
<use href="#ds" x="178.99" y="127.63" opacity="0.85"/>
<use href="#bs" x="187.33" y="127.89" opacity="0.82"/>
<use href="#ds" x="196.02" y="127.4" opacity="0.72"/>
<use href="#bs" x="204.4" y="127.56" opacity="0.77"/>
<use href="#ds" x="212.31" y="127.56" opacity="0.92"/>
<use href="#bs" x="220.39" y="127.44" opacity="0.99"/>
<use href="#ds" x="229.19" y="127.39" opacity="0.8"/>
<use href="#bs" x="46.28" y="132.11" opacity="0.9"/>
<use href="#ds" x="54.98" y="132.19" opacity="0.86"/>
<use href="#bs" x="63.19" y="132.15" opacity="0.94"/>
<use href="#ds" x="71.28" y="132.17" opacity="0.91"/>
<use href="#bs" x="79.93" y="131.78" opacity="0.97"/>
<use href="#ds" x="87.5" y="132.16" opacity="0.88"/>
<use href="#bs" x="96.2" y="132.28" opacity="0.89"/>
<use href="#ds" x="104.43" y="132.17" opacity="0.96"/>
<use href="#bs" x="112.89" y="131.93" opacity="0.86"/>
<use href="#ds" x="121.07" y="132.13" opacity="0.79"/>
<use href="#bs" x="129.31" y="132.03" opacity="0.85"/>
<use href="#ds" x="137.56" y="132.17" opacity="0.95"/>
<use href="#bs" x="146" y="131.97" opacity="0.8"/>
<use href="#ds" x="154.14" y="131.79" opacity="0.87"/>
<use href="#bs" x="162.67" y="131.75" opacity="0.98"/>
<use href="#ds" x="170.76" y="132.21" opacity="0.95"/>
<use href="#bs" x="179.57" y="131.82" opacity="0.86"/>
<use href="#ds" x="187.83" y="131.71" opacity="0.71"/>
<use href="#bs" x="195.85" y="132" opacity="0.98"/>
<use href="#ds" x="204.32" y="132.02" opacity="1"/>
<use href="#bs" x="212.41" y="132.01" opacity="0.92"/>
<use href="#ds" x="220.61" y="131.91" opacity="0.88"/>
<use href="#bs" x="228.88" y="132.27" opacity="0.92"/>
<use href="#ds" x="46.42" y="136.16" opacity="0.81"/>
<use href="#bs" x="54.62" y="136.44" opacity="0.89"/>
<use href="#ds" x="63.3" y="136.68" opacity="0.85"/>
<use href="#bs" x="71.25" y="136.47" opacity="1"/>
<use href="#ds" x="79.47" y="136.42" opacity="0.94"/>
<use href="#bs" x="87.64" y="136.29" opacity="0.99"/>
<use href="#ds" x="96.46" y="136.41" opacity="0.73"/>
<use href="#bs" x="104.82" y="136.51" opacity="0.96"/>
<use href="#ds" x="113.19" y="136.63" opacity="0.83"/>
<use href="#bs" x="120.83" y="136.27" opacity="0.88"/>
<use href="#ds" x="129.4" y="136.21" opacity="0.75"/>
<use href="#bs" x="137.8" y="136.46" opacity="0.84"/>
<use href="#ds" x="146.39" y="136.48" opacity="0.71"/>
<use href="#bs" x="154.23" y="136.57" opacity="0.83"/>
<use href="#ds" x="162.75" y="136.1" opacity="0.79"/>
<use href="#bs" x="171.17" y="136.45" opacity="0.92"/>
<use href="#ds" x="178.96" y="136.4" opacity="0.87"/>
<use href="#bs" x="187.31" y="136.49" opacity="0.88"/>
<use href="#ds" x="196.2" y="136.44" opacity="0.82"/>
<use href="#bs" x="203.8" y="136.19" opacity="0.94"/>
<use href="#ds" x="212.09" y="136.16" opacity="0.75"/>
<use href="#bs" x="220.72" y="136.59" opacity="0.9"/>
<use href="#ds" x="229.25" y="136.14" opacity="0.7"/>
<use href="#bs" x="46.62" y="140.69" opacity="0.93"/>
<use href="#ds" x="54.58" y="140.6" opacity="0.78"/>
<use href="#bs" x="62.68" y="141.04" opacity="0.9"/>
<use href="#ds" x="71.18" y="140.77" opacity="0.82"/>
<use href="#bs" x="79.24" y="141.03" opacity="0.9"/>
<use href="#ds" x="88.27" y="140.76" opacity="0.89"/>
<use href="#bs" x="96" y="140.53" opacity="0.98"/>
<use href="#ds" x="104.78" y="140.69" opacity="0.97"/>
<use href="#bs" x="113.05" y="140.68" opacity="0.9"/>
<use href="#ds" x="121.47" y="140.8" opacity="0.98"/>
<use href="#bs" x="129.19" y="140.73" opacity="0.93"/>
<use href="#ds" x="137.48" y="140.69" opacity="0.96"/>
<use href="#bs" x="145.99" y="140.98" opacity="0.81"/>
<use href="#ds" x="154.04" y="140.72" opacity="0.76"/>
<use href="#bs" x="162.98" y="140.67" opacity="0.89"/>
<use href="#ds" x="170.59" y="140.82" opacity="0.82"/>
<use href="#bs" x="179.12" y="140.54" opacity="0.78"/>
<use href="#ds" x="187.76" y="140.71" opacity="0.77"/>
<use href="#bs" x="195.55" y="140.67" opacity="0.81"/>
<use href="#ds" x="203.73" y="140.9" opacity="0.8"/>
<use href="#bs" x="212.12" y="140.92" opacity="0.77"/>
<use href="#ds" x="220.52" y="141" opacity="0.74"/>
<use href="#bs" x="228.95" y="141" opacity="0.95"/>
<use href="#ds" x="46.13" y="145.11" opacity="0.92"/>
<use href="#bs" x="54.6" y="145.48" opacity="0.8"/>
<use href="#ds" x="63.36" y="145.2" opacity="0.77"/>
<use href="#bs" x="71.26" y="144.98" opacity="0.93"/>
<use href="#ds" x="79.41" y="145.44" opacity="0.88"/>
<use href="#bs" x="87.79" y="145.05" opacity="0.9"/>
<use href="#ds" x="95.97" y="145.42" opacity="0.74"/>
<use href="#bs" x="104.51" y="145.23" opacity="0.82"/>
<use href="#ds" x="113.02" y="145.13" opacity="0.9"/>
<use href="#bs" x="121.15" y="145.09" opacity="0.85"/>
<use href="#ds" x="129.07" y="145.01" opacity="0.96"/>
<use href="#bs" x="137.56" y="145.3" opacity="0.78"/>
<use href="#ds" x="146.05" y="145.12" opacity="0.85"/>
<use href="#bs" x="154.14" y="144.94" opacity="0.83"/>
<use href="#ds" x="162.38" y="144.98" opacity="0.92"/>
<use href="#bs" x="170.73" y="145.14" opacity="0.98"/>
<use href="#ds" x="179.42" y="145.43" opacity="0.96"/>
<use href="#bs" x="187.21" y="145.07" opacity="0.76"/>
<use href="#ds" x="195.94" y="145.3" opacity="0.81"/>
<use href="#bs" x="204.03" y="145.3" opacity="0.92"/>
<use href="#ds" x="212.2" y="145.41" opacity="0.81"/>
<use href="#bs" x="220.8" y="145.01" opacity="0.78"/>
<use href="#ds" x="229.33" y="145.34" opacity="0.91"/>
<use href="#bs" x="46.03" y="149.32" opacity="0.79"/>
<use href="#ds" x="54.46" y="149.48" opacity="0.81"/>
<use href="#bs" x="62.63" y="149.49" opacity="0.91"/>
<use href="#ds" x="71.04" y="149.8" opacity="0.87"/>
<use href="#bs" x="79.77" y="149.45" opacity="0.86"/>
<use href="#ds" x="88.05" y="149.51" opacity="0.7"/>
<use href="#bs" x="96.47" y="149.77" opacity="0.82"/>
<use href="#ds" x="104.13" y="149.81" opacity="0.88"/>
<use href="#bs" x="112.44" y="149.45" opacity="0.78"/>
<use href="#ds" x="121.33" y="149.43" opacity="0.97"/>
<use href="#bs" x="129.6" y="149.35" opacity="0.92"/>
<use href="#ds" x="137.61" y="149.75" opacity="0.95"/>
<use href="#bs" x="145.82" y="149.35" opacity="0.99"/>
<use href="#ds" x="154.24" y="149.86" opacity="0.91"/>
<use href="#bs" x="162.79" y="149.8" opacity="0.91"/>
<use href="#ds" x="170.86" y="149.33" opacity="0.91"/>
<use href="#bs" x="179.14" y="149.61" opacity="0.98"/>
<use href="#ds" x="187.2" y="149.76" opacity="0.71"/>
<use href="#bs" x="195.96" y="149.78" opacity="0.82"/>
<use href="#ds" x="204.14" y="149.88" opacity="0.89"/>
<use href="#bs" x="212.44" y="149.45" opacity="0.76"/>
<use href="#ds" x="220.59" y="149.55" opacity="0.76"/>
<use href="#bs" x="228.85" y="149.38" opacity="0.93"/>
<use href="#ds" x="46.54" y="153.84" opacity="0.77"/>
<use href="#bs" x="54.71" y="153.97" opacity="0.98"/>
<use href="#ds" x="62.88" y="153.88" opacity="0.97"/>
<use href="#bs" x="71.01" y="154.04" opacity="0.83"/>
<use href="#ds" x="79.85" y="154.03" opacity="0.93"/>
<use href="#bs" x="87.64" y="154.1" opacity="0.9"/>
<use href="#ds" x="96.17" y="154.16" opacity="0.95"/>
<use href="#bs" x="104.19" y="153.87" opacity="0.84"/>
<use href="#ds" x="112.57" y="153.74" opacity="0.78"/>
<use href="#bs" x="120.86" y="154.12" opacity="0.86"/>
<use href="#ds" x="129.09" y="153.89" opacity="0.84"/>
<use href="#bs" x="137.59" y="153.8" opacity="0.77"/>
<use href="#ds" x="145.61" y="154.3" opacity="0.93"/>
<use href="#bs" x="153.97" y="154.13" opacity="1"/>
<use href="#ds" x="162.65" y="153.77" opacity="0.85"/>
<use href="#bs" x="170.85" y="153.81" opacity="0.89"/>
<use href="#ds" x="178.81" y="154.25" opacity="0.89"/>
<use href="#bs" x="187.6" y="154.26" opacity="0.91"/>
<use href="#ds" x="195.6" y="153.85" opacity="0.74"/>
<use href="#bs" x="203.72" y="154.16" opacity="0.96"/>
<use href="#ds" x="212.24" y="153.81" opacity="0.89"/>
<use href="#bs" x="220.98" y="154.26" opacity="0.79"/>
<use href="#ds" x="229.23" y="154.2" opacity="0.92"/>
<use href="#bs" x="46.26" y="158.21" opacity="0.96"/>
<use href="#ds" x="54.56" y="158.32" opacity="0.87"/>
<use href="#bs" x="62.9" y="158.6" opacity="0.81"/>
<use href="#ds" x="70.93" y="158.44" opacity="0.89"/>
<use href="#bs" x="79.86" y="158.52" opacity="0.98"/>
<use href="#ds" x="88.26" y="158.4" opacity="0.85"/>
<use href="#bs" x="95.93" y="158.28" opacity="0.9"/>
<use href="#ds" x="104.16" y="158.51" opacity="0.75"/>
<use href="#bs" x="112.75" y="158.68" opacity="0.77"/>
<use href="#ds" x="120.73" y="158.36" opacity="0.76"/>
<use href="#bs" x="129.58" y="158.1" opacity="0.96"/>
<use href="#ds" x="137.98" y="158.57" opacity="0.83"/>
<use href="#bs" x="145.83" y="158.5" opacity="0.88"/>
<use href="#ds" x="154.24" y="158.3" opacity="0.83"/>
<use href="#bs" x="162.73" y="158.6" opacity="0.98"/>
<use href="#ds" x="170.63" y="158.28" opacity="0.83"/>
<use href="#bs" x="179.25" y="158.31" opacity="0.8"/>
<use href="#ds" x="187.17" y="158.29" opacity="0.84"/>
<use href="#bs" x="196.18" y="158.65" opacity="0.97"/>
<use href="#ds" x="204.48" y="158.68" opacity="0.89"/>
<use href="#bs" x="212.65" y="158.14" opacity="0.92"/>
<use href="#ds" x="220.79" y="158.28" opacity="0.87"/>
<use href="#bs" x="229.36" y="158.39" opacity="0.91"/>
<use href="#ds" x="46.24" y="162.71" opacity="0.97"/>
<use href="#bs" x="54.32" y="162.61" opacity="0.92"/>
<use href="#ds" x="62.96" y="162.55" opacity="0.9"/>
<use href="#bs" x="71.2" y="162.85" opacity="0.85"/>
<use href="#ds" x="79.62" y="162.84" opacity="0.82"/>
<use href="#bs" x="87.59" y="162.61" opacity="0.97"/>
<use href="#ds" x="96.24" y="162.57" opacity="0.96"/>
<use href="#bs" x="104.3" y="162.56" opacity="0.88"/>
<use href="#ds" x="112.6" y="162.79" opacity="0.87"/>
<use href="#bs" x="120.88" y="162.84" opacity="0.78"/>
<use href="#ds" x="129.41" y="162.85" opacity="0.72"/>
<use href="#bs" x="137.63" y="162.54" opacity="0.86"/>
<use href="#ds" x="146.29" y="162.83" opacity="0.91"/>
<use href="#bs" x="154.51" y="162.57" opacity="1"/>
<use href="#ds" x="162.78" y="162.56" opacity="0.95"/>
<use href="#bs" x="170.81" y="162.6" opacity="0.99"/>
<use href="#ds" x="179.25" y="162.96" opacity="0.74"/>
<use href="#bs" x="187.72" y="162.53" opacity="0.81"/>
<use href="#ds" x="195.7" y="162.51" opacity="0.88"/>
<use href="#bs" x="203.87" y="162.68" opacity="0.93"/>
<use href="#ds" x="212.34" y="163.03" opacity="0.89"/>
<use href="#bs" x="221" y="162.84" opacity="0.98"/>
<use href="#ds" x="229.3" y="162.6" opacity="0.92"/>
<use href="#bs" x="46.27" y="167.36" opacity="0.92"/>
<use href="#ds" x="54.96" y="166.97" opacity="0.81"/>
<use href="#bs" x="63.19" y="167.47" opacity="0.93"/>
<use href="#ds" x="70.93" y="167.26" opacity="0.73"/>
<use href="#bs" x="79.64" y="167.38" opacity="0.78"/>
<use href="#ds" x="88.24" y="167.31" opacity="0.78"/>
<use href="#bs" x="95.95" y="167.17" opacity="0.96"/>
<use href="#ds" x="104.57" y="166.97" opacity="0.71"/>
<use href="#bs" x="112.49" y="167.38" opacity="0.8"/>
<use href="#ds" x="121.14" y="167.07" opacity="0.91"/>
<use href="#bs" x="129.3" y="166.99" opacity="0.97"/>
<use href="#ds" x="137.73" y="167.31" opacity="0.94"/>
<use href="#bs" x="146.36" y="166.91" opacity="0.84"/>
<use href="#ds" x="154.02" y="167.2" opacity="0.96"/>
<use href="#bs" x="162.84" y="166.92" opacity="0.8"/>
<use href="#ds" x="171.15" y="167.31" opacity="0.82"/>
<use href="#bs" x="179.18" y="166.99" opacity="0.96"/>
<use href="#ds" x="187.41" y="167.42" opacity="0.88"/>
<use href="#bs" x="195.46" y="167.1" opacity="0.8"/>
<use href="#ds" x="204.42" y="167.25" opacity="0.71"/>
<use href="#bs" x="212.14" y="167.12" opacity="0.87"/>
<use href="#ds" x="220.76" y="167.13" opacity="0.81"/>
<use href="#bs" x="228.6" y="167.25" opacity="0.83"/>
<use href="#ds" x="46.02" y="171.58" opacity="1"/>
<use href="#bs" x="54.34" y="171.39" opacity="0.92"/>
<use href="#ds" x="62.82" y="171.46" opacity="0.85"/>
<use href="#bs" x="71.11" y="171.64" opacity="0.88"/>
<use href="#ds" x="79.97" y="171.9" opacity="0.71"/>
<use href="#bs" x="87.95" y="171.76" opacity="0.97"/>
<use href="#ds" x="96.42" y="171.68" opacity="0.89"/>
<use href="#bs" x="104.39" y="171.47" opacity="0.95"/>
<use href="#ds" x="113.1" y="171.86" opacity="0.9"/>
<use href="#bs" x="120.94" y="171.76" opacity="0.93"/>
<use href="#ds" x="129.41" y="171.68" opacity="0.81"/>
<use href="#bs" x="137.74" y="171.54" opacity="0.77"/>
<use href="#ds" x="145.87" y="171.49" opacity="1"/>
<use href="#bs" x="154.29" y="171.52" opacity="0.81"/>
<use href="#ds" x="162.39" y="171.51" opacity="0.74"/>
<use href="#bs" x="170.51" y="171.82" opacity="0.86"/>
<use href="#ds" x="179.16" y="171.64" opacity="0.79"/>
<use href="#bs" x="187.24" y="171.34" opacity="0.83"/>
<use href="#ds" x="195.65" y="171.74" opacity="0.87"/>
<use href="#bs" x="204.45" y="171.5" opacity="0.98"/>
<use href="#ds" x="212.47" y="171.35" opacity="0.75"/>
<use href="#bs" x="220.76" y="171.89" opacity="0.84"/>
<use href="#ds" x="229.22" y="171.56" opacity="0.96"/>
<use href="#bs" x="46.05" y="175.99" opacity="0.97"/>
<use href="#ds" x="54.52" y="175.85" opacity="0.71"/>
<use href="#bs" x="62.73" y="175.86" opacity="0.93"/>
<use href="#ds" x="71.07" y="175.94" opacity="0.76"/>
<use href="#bs" x="79.68" y="176.22" opacity="0.91"/>
<use href="#ds" x="87.66" y="176.14" opacity="0.99"/>
<use href="#bs" x="96.28" y="175.75" opacity="0.95"/>
<use href="#ds" x="104.8" y="175.9" opacity="0.74"/>
<use href="#bs" x="112.55" y="176.02" opacity="0.97"/>
<use href="#ds" x="121.21" y="176.25" opacity="0.76"/>
<use href="#bs" x="129.26" y="176.15" opacity="0.91"/>
<use href="#ds" x="137.62" y="176.11" opacity="0.8"/>
<use href="#bs" x="145.65" y="175.95" opacity="0.76"/>
<use href="#ds" x="154.4" y="175.9" opacity="0.85"/>
<use href="#bs" x="162.68" y="175.85" opacity="0.87"/>
<use href="#ds" x="170.51" y="176.26" opacity="0.87"/>
<use href="#bs" x="179.59" y="175.73" opacity="0.9"/>
<use href="#ds" x="187.68" y="175.9" opacity="0.73"/>
<use href="#bs" x="195.52" y="175.79" opacity="0.94"/>
<use href="#ds" x="203.77" y="176.19" opacity="0.83"/>
<use href="#bs" x="212.43" y="176.05" opacity="0.89"/>
<use href="#ds" x="220.83" y="176.06" opacity="0.8"/>
<use href="#bs" x="229.19" y="175.85" opacity="0.93"/>
</g>
<g filter="url(#blur3)" style="mix-blend-mode:multiply">
<ellipse cx="136" cy="91.5" rx="18" ry="8.5" fill="#901808" opacity="0.72"/>
<ellipse cx="95" cy="112" rx="18" ry="7" transform="rotate(38 95 112)" fill="#901808" opacity="0.6"/>
<path d="M138,119 Q180,132 218,146 L218,162 Q180,146 136,129 Z" fill="#901808" opacity="0.6"/>
<ellipse cx="216" cy="150" rx="4" ry="13" fill="#200000" opacity="0.95"/>
</g>
<g filter="url(#blur3)" style="mix-blend-mode:screen">
<ellipse cx="128" cy="112" rx="24" ry="7" transform="rotate(22 128 112)" fill="#b07040" opacity="0.75"/>
<path d="M186,160 L218,166 L218,176 L180,176 Z" fill="#a06030" opacity="0.5"/>
</g>
</g>
<rect x="48" y="4.3" width="169" height="0.8" fill="#a05a3a" opacity="0.6"/>
<circle cx="129.3" cy="83.4" r="54.1" fill="none" stroke="#ffe8e0" stroke-width="0.7" stroke-dasharray="1.2 0.5" opacity="0.9"/>
<line x1="84" y1="83.4" x2="174" y2="83.4" stroke="#ffffff" stroke-width="0.9"/>
<polygon points="74.8,83.4 84.2,79.2 84.2,88" fill="#ffffff"/>
<polygon points="183.6,83.4 174.2,79.2 174.2,88" fill="#ffffff"/>
<text x="137.2" y="71.8" font-family="'Liberation Serif', 'DejaVu Serif', serif" font-size="18.6" fill="#ffffff" text-anchor="middle">32 (μm)</text>
<text x="57.6" y="22.4" font-family="'Liberation Serif', 'DejaVu Serif', serif" font-size="17" font-weight="bold" fill="#ffffff">W/O Ag NPs</text>
<g clip-path="url(#clipC)">
<rect x="47.6" y="226" width="169.2" height="168.3" fill="#130202"/>
<circle cx="132" cy="305.5" r="60" fill="url(#blob)"/>
<g style="mix-blend-mode:multiply" filter="url(#soft2)">
<ellipse cx="121.2" cy="272.8" rx="2.6" ry="2.0" fill="#f2c4a0" opacity="0.04"/>
<ellipse cx="125.1" cy="272.0" rx="2.8" ry="2.2" fill="#f2c4a0" opacity="0.13"/>
<ellipse cx="130.4" cy="271.2" rx="3.0" ry="2.1" fill="#f2c4a0" opacity="0.08"/>
<ellipse cx="137.4" cy="272.9" rx="2.8" ry="2.1" fill="#f2c4a0" opacity="0.06"/>
<ellipse cx="139.5" cy="272.1" rx="2.1" ry="1.7" fill="#f2c4a0" opacity="0.05"/>
<ellipse cx="114.6" cy="275.9" rx="2.5" ry="2.3" fill="#f2c4a0" opacity="0.10"/>
<ellipse cx="121.4" cy="276.0" rx="2.8" ry="1.9" fill="#f2c4a0" opacity="0.27"/>
<ellipse cx="127.5" cy="277.0" rx="3.0" ry="2.1" fill="#f2c4a0" opacity="0.26"/>
<ellipse cx="130.2" cy="275.6" rx="2.1" ry="2.2" fill="#f2c4a0" opacity="0.30"/>
<ellipse cx="137.0" cy="275.8" rx="3.1" ry="2.3" fill="#f2c4a0" opacity="0.33"/>
<ellipse cx="140.1" cy="276.8" rx="2.6" ry="2.4" fill="#f2c4a0" opacity="0.13"/>
<ellipse cx="144.7" cy="276.3" rx="2.9" ry="1.7" fill="#f2c4a0" opacity="0.18"/>
<ellipse cx="150.5" cy="276.9" rx="2.9" ry="1.6" fill="#f2c4a0" opacity="0.03"/>
<ellipse cx="109.8" cy="279.1" rx="3.0" ry="1.7" fill="#f2c4a0" opacity="0.12"/>
<ellipse cx="115.8" cy="279.4" rx="2.9" ry="1.6" fill="#f2c4a0" opacity="0.37"/>
<ellipse cx="119.8" cy="279.8" rx="2.3" ry="1.7" fill="#f2c4a0" opacity="0.55"/>
<ellipse cx="126.9" cy="279.6" rx="3.1" ry="1.7" fill="#f2c4a0" opacity="0.73"/>
<ellipse cx="132.1" cy="280.3" rx="2.1" ry="2.4" fill="#f2c4a0" opacity="0.42"/>
<ellipse cx="135.3" cy="280.5" rx="2.4" ry="1.8" fill="#f2c4a0" opacity="0.32"/>
<ellipse cx="139.8" cy="280.2" rx="2.3" ry="2.0" fill="#f2c4a0" opacity="0.24"/>
<ellipse cx="145.9" cy="280.9" rx="2.6" ry="2.0" fill="#f2c4a0" opacity="0.35"/>
<ellipse cx="150.0" cy="279.3" rx="3.1" ry="2.2" fill="#f2c4a0" opacity="0.36"/>
<ellipse cx="155.1" cy="280.5" rx="3.1" ry="1.7" fill="#f2c4a0" opacity="0.04"/>
<ellipse cx="107.1" cy="284.2" rx="2.5" ry="1.6" fill="#f2c4a0" opacity="0.20"/>
<ellipse cx="112.4" cy="283.5" rx="2.8" ry="1.7" fill="#f2c4a0" opacity="0.16"/>
<ellipse cx="116.3" cy="283.6" rx="2.2" ry="2.1" fill="#f2c4a0" opacity="0.65"/>
<ellipse cx="120.2" cy="284.1" rx="3.0" ry="2.1" fill="#f2c4a0" opacity="0.24"/>
<ellipse cx="127.3" cy="283.4" rx="2.0" ry="1.7" fill="#f2c4a0" opacity="0.35"/>
<ellipse cx="129.7" cy="283.4" rx="2.4" ry="2.0" fill="#f2c4a0" opacity="0.45"/>
<ellipse cx="135.6" cy="284.8" rx="3.2" ry="2.1" fill="#f2c4a0" opacity="0.27"/>
<ellipse cx="141.3" cy="283.3" rx="2.0" ry="1.5" fill="#f2c4a0" opacity="0.58"/>
<ellipse cx="146.6" cy="284.9" rx="2.0" ry="2.1" fill="#f2c4a0" opacity="0.70"/>
<ellipse cx="151.7" cy="283.6" rx="3.2" ry="1.6" fill="#f2c4a0" opacity="0.42"/>
<ellipse cx="156.7" cy="284.8" rx="2.9" ry="2.1" fill="#f2c4a0" opacity="0.24"/>
<ellipse cx="102.2" cy="287.7" rx="2.8" ry="2.3" fill="#f2c4a0" opacity="0.03"/>
<ellipse cx="105.8" cy="288.6" rx="3.0" ry="2.0" fill="#f2c4a0" opacity="0.40"/>
<ellipse cx="110.6" cy="288.2" rx="2.7" ry="1.6" fill="#f2c4a0" opacity="0.54"/>
<ellipse cx="117.5" cy="288.8" rx="2.9" ry="1.8" fill="#f2c4a0" opacity="0.55"/>
<ellipse cx="121.2" cy="287.9" rx="3.0" ry="1.6" fill="#f2c4a0" opacity="0.60"/>
<ellipse cx="124.6" cy="288.2" rx="2.6" ry="1.7" fill="#f2c4a0" opacity="0.61"/>
<ellipse cx="131.0" cy="288.2" rx="3.1" ry="1.7" fill="#f2c4a0" opacity="0.58"/>
<ellipse cx="135.4" cy="288.4" rx="2.2" ry="1.7" fill="#f2c4a0" opacity="0.21"/>
<ellipse cx="141.5" cy="287.9" rx="3.1" ry="1.8" fill="#f2c4a0" opacity="0.70"/>
<ellipse cx="145.1" cy="287.9" rx="3.0" ry="2.3" fill="#f2c4a0" opacity="0.57"/>
<ellipse cx="150.7" cy="288.2" rx="2.4" ry="1.6" fill="#f2c4a0" opacity="0.68"/>
<ellipse cx="157.0" cy="288.7" rx="2.9" ry="2.4" fill="#f2c4a0" opacity="0.37"/>
<ellipse cx="160.0" cy="287.9" rx="2.3" ry="1.7" fill="#f2c4a0" opacity="0.09"/>
<ellipse cx="101.4" cy="292.0" rx="2.4" ry="2.3" fill="#f2c4a0" opacity="0.12"/>
<ellipse cx="105.9" cy="291.1" rx="2.0" ry="2.3" fill="#f2c4a0" opacity="0.62"/>
<ellipse cx="111.6" cy="292.1" rx="2.4" ry="2.2" fill="#f2c4a0" opacity="0.22"/>
<ellipse cx="114.9" cy="291.9" rx="2.0" ry="2.2" fill="#f2c4a0" opacity="0.21"/>
<ellipse cx="119.9" cy="291.1" rx="2.8" ry="1.9" fill="#f2c4a0" opacity="0.33"/>
<ellipse cx="126.5" cy="292.6" rx="3.2" ry="2.1" fill="#f2c4a0" opacity="0.55"/>
<ellipse cx="130.9" cy="291.4" rx="2.0" ry="1.9" fill="#f2c4a0" opacity="0.31"/>
<ellipse cx="135.0" cy="291.5" rx="2.4" ry="2.1" fill="#f2c4a0" opacity="0.59"/>
<ellipse cx="141.3" cy="292.5" rx="2.5" ry="2.2" fill="#f2c4a0" opacity="0.49"/>
<ellipse cx="144.8" cy="292.9" rx="2.9" ry="1.6" fill="#f2c4a0" opacity="0.70"/>
<ellipse cx="151.4" cy="292.8" rx="2.5" ry="2.0" fill="#f2c4a0" opacity="0.45"/>
<ellipse cx="156.9" cy="292.9" rx="2.6" ry="2.1" fill="#f2c4a0" opacity="0.68"/>
<ellipse cx="161.7" cy="292.6" rx="2.8" ry="2.1" fill="#f2c4a0" opacity="0.16"/>
<ellipse cx="102.2" cy="297.0" rx="3.2" ry="2.0" fill="#f2c4a0" opacity="0.14"/>
<ellipse cx="105.5" cy="296.8" rx="3.0" ry="1.8" fill="#f2c4a0" opacity="0.63"/>
<ellipse cx="110.8" cy="296.1" rx="2.9" ry="1.9" fill="#f2c4a0" opacity="0.25"/>
<ellipse cx="116.9" cy="295.1" rx="3.0" ry="1.7" fill="#f2c4a0" opacity="0.22"/>
<ellipse cx="121.9" cy="295.3" rx="2.2" ry="2.0" fill="#f2c4a0" opacity="0.38"/>
<ellipse cx="127.0" cy="296.4" rx="3.1" ry="1.9" fill="#f2c4a0" opacity="0.60"/>
<ellipse cx="129.8" cy="295.4" rx="2.6" ry="1.8" fill="#f2c4a0" opacity="0.72"/>
<ellipse cx="136.4" cy="296.0" rx="3.0" ry="2.0" fill="#f2c4a0" opacity="0.60"/>
<ellipse cx="140.6" cy="296.7" rx="3.1" ry="1.7" fill="#f2c4a0" opacity="0.37"/>
<ellipse cx="147.4" cy="296.0" rx="2.7" ry="1.7" fill="#f2c4a0" opacity="0.67"/>
<ellipse cx="151.0" cy="296.2" rx="2.0" ry="2.4" fill="#f2c4a0" opacity="0.49"/>
<ellipse cx="155.7" cy="296.6" rx="2.7" ry="1.9" fill="#f2c4a0" opacity="0.48"/>
<ellipse cx="159.7" cy="296.1" rx="2.5" ry="2.4" fill="#f2c4a0" opacity="0.40"/>
<ellipse cx="165.3" cy="295.9" rx="2.2" ry="1.9" fill="#f2c4a0" opacity="0.06"/>
<ellipse cx="102.2" cy="300.0" rx="2.4" ry="1.7" fill="#f2c4a0" opacity="0.37"/>
<ellipse cx="107.3" cy="299.3" rx="2.9" ry="1.5" fill="#f2c4a0" opacity="0.54"/>
<ellipse cx="110.2" cy="300.4" rx="2.4" ry="1.8" fill="#f2c4a0" opacity="0.31"/>
<ellipse cx="114.8" cy="300.5" rx="2.1" ry="2.0" fill="#f2c4a0" opacity="0.54"/>
<ellipse cx="120.1" cy="300.1" rx="2.5" ry="1.8" fill="#f2c4a0" opacity="0.34"/>
<ellipse cx="126.1" cy="299.3" rx="2.2" ry="2.1" fill="#f2c4a0" opacity="0.43"/>
<ellipse cx="131.1" cy="300.7" rx="2.7" ry="2.3" fill="#f2c4a0" opacity="0.55"/>
<ellipse cx="136.7" cy="300.6" rx="3.1" ry="1.8" fill="#f2c4a0" opacity="0.33"/>
<ellipse cx="142.3" cy="299.4" rx="3.2" ry="2.3" fill="#f2c4a0" opacity="0.37"/>
<ellipse cx="145.2" cy="300.5" rx="2.3" ry="1.6" fill="#f2c4a0" opacity="0.27"/>
<ellipse cx="150.8" cy="300.6" rx="2.2" ry="1.9" fill="#f2c4a0" opacity="0.66"/>
<ellipse cx="154.6" cy="299.4" rx="2.8" ry="2.3" fill="#f2c4a0" opacity="0.58"/>
<ellipse cx="159.8" cy="300.0" rx="2.9" ry="2.0" fill="#f2c4a0" opacity="0.59"/>
<ellipse cx="165.1" cy="299.1" rx="2.1" ry="1.5" fill="#f2c4a0" opacity="0.11"/>
<ellipse cx="101.0" cy="304.1" rx="2.2" ry="1.7" fill="#f2c4a0" opacity="0.31"/>
<ellipse cx="107.0" cy="305.0" rx="3.1" ry="1.6" fill="#f2c4a0" opacity="0.31"/>
<ellipse cx="112.4" cy="303.9" rx="2.9" ry="1.8" fill="#f2c4a0" opacity="0.23"/>
<ellipse cx="116.0" cy="303.9" rx="2.7" ry="1.5" fill="#f2c4a0" opacity="0.46"/>
<ellipse cx="122.0" cy="303.4" rx="2.5" ry="2.2" fill="#f2c4a0" opacity="0.59"/>
<ellipse cx="125.1" cy="303.3" rx="2.6" ry="1.5" fill="#f2c4a0" opacity="0.42"/>
<ellipse cx="131.9" cy="304.4" rx="3.0" ry="2.1" fill="#f2c4a0" opacity="0.69"/>
<ellipse cx="136.3" cy="304.0" rx="3.2" ry="2.2" fill="#f2c4a0" opacity="0.42"/>
<ellipse cx="142.2" cy="304.5" rx="2.9" ry="2.2" fill="#f2c4a0" opacity="0.34"/>
<ellipse cx="147.2" cy="304.8" rx="2.8" ry="2.2" fill="#f2c4a0" opacity="0.42"/>
<ellipse cx="150.7" cy="304.4" rx="2.1" ry="1.8" fill="#f2c4a0" opacity="0.62"/>
<ellipse cx="154.5" cy="303.7" rx="2.8" ry="2.1" fill="#f2c4a0" opacity="0.46"/>
<ellipse cx="162.3" cy="304.3" rx="2.4" ry="2.1" fill="#f2c4a0" opacity="0.29"/>
<ellipse cx="166.1" cy="303.8" rx="3.2" ry="2.1" fill="#f2c4a0" opacity="0.13"/>
<ellipse cx="101.8" cy="309.0" rx="2.0" ry="2.1" fill="#f2c4a0" opacity="0.36"/>
<ellipse cx="105.3" cy="307.8" rx="2.1" ry="1.7" fill="#f2c4a0" opacity="0.61"/>
<ellipse cx="109.8" cy="307.5" rx="3.1" ry="2.0" fill="#f2c4a0" opacity="0.41"/>
<ellipse cx="117.4" cy="308.1" rx="3.2" ry="2.1" fill="#f2c4a0" opacity="0.48"/>
<ellipse cx="119.7" cy="308.2" rx="2.9" ry="1.5" fill="#f2c4a0" opacity="0.65"/>
<ellipse cx="125.0" cy="307.9" rx="2.2" ry="1.9" fill="#f2c4a0" opacity="0.71"/>
<ellipse cx="129.7" cy="308.9" rx="2.5" ry="2.0" fill="#f2c4a0" opacity="0.54"/>
<ellipse cx="135.6" cy="307.6" rx="2.8" ry="2.0" fill="#f2c4a0" opacity="0.53"/>
<ellipse cx="141.6" cy="307.6" rx="2.0" ry="1.7" fill="#f2c4a0" opacity="0.36"/>
<ellipse cx="145.0" cy="308.5" rx="2.5" ry="2.3" fill="#f2c4a0" opacity="0.22"/>
<ellipse cx="149.7" cy="309.0" rx="3.1" ry="1.6" fill="#f2c4a0" opacity="0.61"/>
<ellipse cx="155.8" cy="308.0" rx="3.2" ry="1.7" fill="#f2c4a0" opacity="0.70"/>
<ellipse cx="162.3" cy="308.4" rx="2.6" ry="2.4" fill="#f2c4a0" opacity="0.42"/>
<ellipse cx="166.3" cy="307.2" rx="2.7" ry="1.9" fill="#f2c4a0" opacity="0.15"/>
<ellipse cx="99.7" cy="312.1" rx="2.1" ry="1.9" fill="#f2c4a0" opacity="0.17"/>
<ellipse cx="105.9" cy="311.5" rx="2.7" ry="1.9" fill="#f2c4a0" opacity="0.57"/>
<ellipse cx="111.1" cy="313.0" rx="3.1" ry="2.2" fill="#f2c4a0" opacity="0.63"/>
<ellipse cx="114.8" cy="312.8" rx="2.9" ry="2.1" fill="#f2c4a0" opacity="0.33"/>
<ellipse cx="120.3" cy="312.4" rx="2.7" ry="2.0" fill="#f2c4a0" opacity="0.40"/>
<ellipse cx="126.8" cy="311.4" rx="2.3" ry="2.4" fill="#f2c4a0" opacity="0.55"/>
<ellipse cx="132.1" cy="311.1" rx="2.1" ry="1.7" fill="#f2c4a0" opacity="0.70"/>
<ellipse cx="136.4" cy="311.2" rx="2.6" ry="1.6" fill="#f2c4a0" opacity="0.43"/>
<ellipse cx="141.5" cy="312.1" rx="2.8" ry="1.8" fill="#f2c4a0" opacity="0.25"/>
<ellipse cx="145.1" cy="311.7" rx="2.9" ry="2.3" fill="#f2c4a0" opacity="0.46"/>
<ellipse cx="149.9" cy="312.6" rx="2.7" ry="2.2" fill="#f2c4a0" opacity="0.24"/>
<ellipse cx="155.8" cy="311.5" rx="3.0" ry="1.8" fill="#f2c4a0" opacity="0.32"/>
<ellipse cx="162.5" cy="311.7" rx="2.7" ry="2.2" fill="#f2c4a0" opacity="0.44"/>
<ellipse cx="165.8" cy="311.7" rx="2.1" ry="2.3" fill="#f2c4a0" opacity="0.12"/>
<ellipse cx="99.7" cy="316.1" rx="2.6" ry="2.1" fill="#f2c4a0" opacity="0.10"/>
<ellipse cx="106.8" cy="315.2" rx="2.3" ry="2.1" fill="#f2c4a0" opacity="0.36"/>
<ellipse cx="110.4" cy="316.4" rx="2.8" ry="1.8" fill="#f2c4a0" opacity="0.24"/>
<ellipse cx="115.6" cy="316.5" rx="2.4" ry="1.6" fill="#f2c4a0" opacity="0.28"/>
<ellipse cx="121.2" cy="316.8" rx="3.1" ry="2.3" fill="#f2c4a0" opacity="0.59"/>
<ellipse cx="126.9" cy="315.6" rx="2.4" ry="1.9" fill="#f2c4a0" opacity="0.44"/>
<ellipse cx="132.2" cy="315.5" rx="2.4" ry="1.8" fill="#f2c4a0" opacity="0.71"/>
<ellipse cx="135.7" cy="315.8" rx="2.2" ry="2.0" fill="#f2c4a0" opacity="0.40"/>
<ellipse cx="141.1" cy="316.7" rx="2.7" ry="1.7" fill="#f2c4a0" opacity="0.64"/>
<ellipse cx="147.1" cy="315.6" rx="2.0" ry="2.0" fill="#f2c4a0" opacity="0.62"/>
<ellipse cx="151.2" cy="316.9" rx="2.8" ry="2.2" fill="#f2c4a0" opacity="0.50"/>
<ellipse cx="156.1" cy="316.6" rx="2.1" ry="1.6" fill="#f2c4a0" opacity="0.24"/>
<ellipse cx="162.2" cy="315.2" rx="2.8" ry="1.6" fill="#f2c4a0" opacity="0.39"/>
<ellipse cx="166.4" cy="315.5" rx="2.3" ry="2.2" fill="#f2c4a0" opacity="0.03"/>
<ellipse cx="101.8" cy="319.8" rx="2.4" ry="2.4" fill="#f2c4a0" opacity="0.11"/>
<ellipse cx="106.0" cy="320.1" rx="2.9" ry="2.1" fill="#f2c4a0" opacity="0.44"/>
<ellipse cx="110.7" cy="320.7" rx="2.8" ry="2.3" fill="#f2c4a0" opacity="0.70"/>
<ellipse cx="117.0" cy="320.8" rx="3.1" ry="2.1" fill="#f2c4a0" opacity="0.64"/>
<ellipse cx="121.6" cy="320.6" rx="2.5" ry="1.9" fill="#f2c4a0" opacity="0.49"/>
<ellipse cx="126.7" cy="321.0" rx="2.5" ry="1.7" fill="#f2c4a0" opacity="0.28"/>
<ellipse cx="130.8" cy="319.6" rx="3.2" ry="1.6" fill="#f2c4a0" opacity="0.31"/>
<ellipse cx="134.8" cy="320.3" rx="2.9" ry="1.7" fill="#f2c4a0" opacity="0.37"/>
<ellipse cx="140.9" cy="320.2" rx="3.1" ry="1.5" fill="#f2c4a0" opacity="0.23"/>
<ellipse cx="145.1" cy="319.4" rx="2.3" ry="2.1" fill="#f2c4a0" opacity="0.26"/>
<ellipse cx="150.2" cy="319.4" rx="2.3" ry="1.7" fill="#f2c4a0" opacity="0.53"/>
<ellipse cx="155.4" cy="320.1" rx="3.0" ry="1.9" fill="#f2c4a0" opacity="0.61"/>
<ellipse cx="162.2" cy="320.8" rx="2.4" ry="2.0" fill="#f2c4a0" opacity="0.15"/>
<ellipse cx="105.9" cy="323.4" rx="2.1" ry="2.4" fill="#f2c4a0" opacity="0.37"/>
<ellipse cx="110.7" cy="324.1" rx="2.6" ry="1.7" fill="#f2c4a0" opacity="0.64"/>
<ellipse cx="116.5" cy="323.5" rx="2.0" ry="1.9" fill="#f2c4a0" opacity="0.74"/>
<ellipse cx="121.9" cy="324.4" rx="2.7" ry="1.6" fill="#f2c4a0" opacity="0.40"/>
<ellipse cx="125.5" cy="323.5" rx="3.0" ry="2.0" fill="#f2c4a0" opacity="0.29"/>
<ellipse cx="132.5" cy="323.5" rx="2.6" ry="1.6" fill="#f2c4a0" opacity="0.55"/>
<ellipse cx="134.5" cy="324.6" rx="3.0" ry="2.2" fill="#f2c4a0" opacity="0.62"/>
<ellipse cx="140.3" cy="324.4" rx="2.1" ry="1.9" fill="#f2c4a0" opacity="0.25"/>
<ellipse cx="147.4" cy="324.2" rx="3.0" ry="1.8" fill="#f2c4a0" opacity="0.46"/>
<ellipse cx="150.8" cy="324.8" rx="2.1" ry="2.2" fill="#f2c4a0" opacity="0.63"/>
<ellipse cx="156.1" cy="324.1" rx="2.2" ry="2.2" fill="#f2c4a0" opacity="0.22"/>
<ellipse cx="160.4" cy="323.2" rx="2.4" ry="1.9" fill="#f2c4a0" opacity="0.07"/>
<ellipse cx="105.6" cy="328.4" rx="2.1" ry="1.9" fill="#f2c4a0" opacity="0.12"/>
<ellipse cx="112.4" cy="328.7" rx="2.8" ry="1.5" fill="#f2c4a0" opacity="0.30"/>
<ellipse cx="116.6" cy="327.5" rx="2.7" ry="1.9" fill="#f2c4a0" opacity="0.41"/>
<ellipse cx="122.5" cy="328.6" rx="2.2" ry="2.1" fill="#f2c4a0" opacity="0.21"/>
<ellipse cx="125.6" cy="328.1" rx="2.4" ry="1.8" fill="#f2c4a0" opacity="0.36"/>
<ellipse cx="131.5" cy="327.5" rx="2.2" ry="2.2" fill="#f2c4a0" opacity="0.42"/>
<ellipse cx="137.3" cy="328.1" rx="2.9" ry="1.8" fill="#f2c4a0" opacity="0.38"/>
<ellipse cx="139.8" cy="327.3" rx="2.1" ry="2.1" fill="#f2c4a0" opacity="0.65"/>
<ellipse cx="145.0" cy="327.8" rx="3.0" ry="2.0" fill="#f2c4a0" opacity="0.59"/>
<ellipse cx="150.2" cy="327.3" rx="2.1" ry="1.9" fill="#f2c4a0" opacity="0.20"/>
<ellipse cx="157.3" cy="327.9" rx="2.6" ry="2.1" fill="#f2c4a0" opacity="0.09"/>
<ellipse cx="112.0" cy="331.8" rx="2.4" ry="1.9" fill="#f2c4a0" opacity="0.17"/>
<ellipse cx="115.7" cy="332.4" rx="3.2" ry="2.2" fill="#f2c4a0" opacity="0.13"/>
<ellipse cx="121.3" cy="331.0" rx="2.4" ry="1.8" fill="#f2c4a0" opacity="0.51"/>
<ellipse cx="124.8" cy="331.8" rx="2.6" ry="2.2" fill="#f2c4a0" opacity="0.56"/>
<ellipse cx="131.3" cy="331.3" rx="2.9" ry="2.3" fill="#f2c4a0" opacity="0.65"/>
<ellipse cx="135.6" cy="332.0" rx="2.2" ry="2.1" fill="#f2c4a0" opacity="0.50"/>
<ellipse cx="141.0" cy="332.4" rx="3.0" ry="1.7" fill="#f2c4a0" opacity="0.74"/>
<ellipse cx="146.4" cy="331.4" rx="2.1" ry="1.7" fill="#f2c4a0" opacity="0.54"/>
<ellipse cx="151.6" cy="331.7" rx="3.1" ry="1.8" fill="#f2c4a0" opacity="0.22"/>
<ellipse cx="154.9" cy="332.9" rx="2.2" ry="2.3" fill="#f2c4a0" opacity="0.01"/>
<ellipse cx="116.2" cy="336.1" rx="2.3" ry="2.3" fill="#f2c4a0" opacity="0.10"/>
<ellipse cx="122.0" cy="336.2" rx="2.1" ry="2.2" fill="#f2c4a0" opacity="0.33"/>
<ellipse cx="127.2" cy="335.5" rx="2.7" ry="2.2" fill="#f2c4a0" opacity="0.22"/>
<ellipse cx="131.1" cy="335.2" rx="2.0" ry="1.7" fill="#f2c4a0" opacity="0.21"/>
<ellipse cx="137.3" cy="336.3" rx="2.4" ry="2.1" fill="#f2c4a0" opacity="0.49"/>
<ellipse cx="140.6" cy="336.2" rx="3.0" ry="1.5" fill="#f2c4a0" opacity="0.32"/>
<ellipse cx="145.9" cy="335.3" rx="2.5" ry="2.0" fill="#f2c4a0" opacity="0.09"/>
<ellipse cx="151.1" cy="335.5" rx="2.7" ry="1.8" fill="#f2c4a0" opacity="0.00"/>
<ellipse cx="124.6" cy="340.3" rx="2.2" ry="2.4" fill="#f2c4a0" opacity="0.07"/>
<ellipse cx="130.9" cy="339.8" rx="2.7" ry="2.1" fill="#f2c4a0" opacity="0.10"/>
<ellipse cx="136.8" cy="340.0" rx="3.2" ry="2.3" fill="#f2c4a0" opacity="0.10"/>
<ellipse cx="140.7" cy="339.9" rx="2.7" ry="2.3" fill="#f2c4a0" opacity="0.03"/>
</g>
</g>
<circle cx="131.3" cy="306.8" r="54.3" fill="none" stroke="#f0e4e0" stroke-width="0.7" stroke-dasharray="1.2 0.5" opacity="0.9"/>
<line x1="77.2" y1="247.5" x2="77.2" y2="315" stroke="#e8e0dc" stroke-width="0.8" stroke-dasharray="2 1"/>
<line x1="87" y1="247.5" x2="87" y2="315" stroke="#e8e0dc" stroke-width="0.8" stroke-dasharray="2 1"/>
<line x1="47.6" y1="254" x2="68" y2="254" stroke="#e8e4e4" stroke-width="0.8"/>
<polygon points="76.3,254 67,249.8 67,258.2" fill="#ffffff"/>
<line x1="96" y1="254" x2="108.5" y2="254" stroke="#e8e4e4" stroke-width="0.8"/>
<polygon points="87.3,254 96.5,249.8 96.5,258.2" fill="#ffffff"/>
<text x="73.5" y="244.7" font-family="'Liberation Serif', 'DejaVu Serif', serif" font-size="13.4" fill="#ffffff">3.2 μm</text>
<text x="57" y="386.2" font-family="'Liberation Serif', 'DejaVu Serif', serif" font-size="17.3" font-weight="bold" fill="#ffffff">W Ag NPs</text>
<text transform="translate(44.2,170.3) rotate(-90)" font-family="'Liberation Serif', 'DejaVu Serif', serif" font-size="9.1" font-weight="bold" fill="#111" stroke="#111" stroke-width="0.15" text-anchor="middle">0</text>
<text transform="translate(44.2,154.5) rotate(-90)" font-family="'Liberation Serif', 'DejaVu Serif', serif" font-size="9.1" font-weight="bold" fill="#111" stroke="#111" stroke-width="0.15" text-anchor="middle">5</text>
<text transform="translate(44.2,137.8) rotate(-90)" font-family="'Liberation Serif', 'DejaVu Serif', serif" font-size="9.1" font-weight="bold" fill="#111" stroke="#111" stroke-width="0.15" text-anchor="middle">10</text>
<text transform="translate(44.2,121) rotate(-90)" font-family="'Liberation Serif', 'DejaVu Serif', serif" font-size="9.1" font-weight="bold" fill="#111" stroke="#111" stroke-width="0.15" text-anchor="middle">15</text>
<text transform="translate(44.2,105) rotate(-90)" font-family="'Liberation Serif', 'DejaVu Serif', serif" font-size="9.1" font-weight="bold" fill="#111" stroke="#111" stroke-width="0.15" text-anchor="middle">20</text>
<text transform="translate(44.2,88.2) rotate(-90)" font-family="'Liberation Serif', 'DejaVu Serif', serif" font-size="9.1" font-weight="bold" fill="#111" stroke="#111" stroke-width="0.15" text-anchor="middle">25</text>
<text transform="translate(44.2,72) rotate(-90)" font-family="'Liberation Serif', 'DejaVu Serif', serif" font-size="9.1" font-weight="bold" fill="#111" stroke="#111" stroke-width="0.15" text-anchor="middle">30</text>
<text transform="translate(44.2,55.5) rotate(-90)" font-family="'Liberation Serif', 'DejaVu Serif', serif" font-size="9.1" font-weight="bold" fill="#111" stroke="#111" stroke-width="0.15" text-anchor="middle">35</text>
<text transform="translate(44.2,38.5) rotate(-90)" font-family="'Liberation Serif', 'DejaVu Serif', serif" font-size="9.1" font-weight="bold" fill="#111" stroke="#111" stroke-width="0.15" text-anchor="middle">40</text>
<text transform="translate(44.2,20) rotate(-90)" font-family="'Liberation Serif', 'DejaVu Serif', serif" font-size="9.1" font-weight="bold" fill="#111" stroke="#111" stroke-width="0.15" text-anchor="middle">45</text>
<text transform="translate(44.2,9.1) rotate(-90)" font-family="'Liberation Serif', 'DejaVu Serif', serif" font-size="9.1" font-weight="bold" fill="#111" stroke="#111" stroke-width="0.15" text-anchor="middle">50</text>
<text x="50" y="183" font-family="'Liberation Serif', 'DejaVu Serif', serif" font-size="9.1" font-weight="bold" fill="#111" stroke="#111" stroke-width="0.15" text-anchor="middle">0</text>
<text x="65.5" y="183" font-family="'Liberation Serif', 'DejaVu Serif', serif" font-size="9.1" font-weight="bold" fill="#111" stroke="#111" stroke-width="0.15" text-anchor="middle">5</text>
<text x="82" y="183" font-family="'Liberation Serif', 'DejaVu Serif', serif" font-size="9.1" font-weight="bold" fill="#111" stroke="#111" stroke-width="0.15" text-anchor="middle">10</text>
<text x="98.7" y="183" font-family="'Liberation Serif', 'DejaVu Serif', serif" font-size="9.1" font-weight="bold" fill="#111" stroke="#111" stroke-width="0.15" text-anchor="middle">15</text>
<text x="115" y="183" font-family="'Liberation Serif', 'DejaVu Serif', serif" font-size="9.1" font-weight="bold" fill="#111" stroke="#111" stroke-width="0.15" text-anchor="middle">20</text>
<text x="132" y="183" font-family="'Liberation Serif', 'DejaVu Serif', serif" font-size="9.1" font-weight="bold" fill="#111" stroke="#111" stroke-width="0.15" text-anchor="middle">25</text>
<text x="149" y="183" font-family="'Liberation Serif', 'DejaVu Serif', serif" font-size="9.1" font-weight="bold" fill="#111" stroke="#111" stroke-width="0.15" text-anchor="middle">30</text>
<text x="165.7" y="183" font-family="'Liberation Serif', 'DejaVu Serif', serif" font-size="9.1" font-weight="bold" fill="#111" stroke="#111" stroke-width="0.15" text-anchor="middle">35</text>
<text x="182.3" y="183" font-family="'Liberation Serif', 'DejaVu Serif', serif" font-size="9.1" font-weight="bold" fill="#111" stroke="#111" stroke-width="0.15" text-anchor="middle">40</text>
<text x="199.5" y="183" font-family="'Liberation Serif', 'DejaVu Serif', serif" font-size="9.1" font-weight="bold" fill="#111" stroke="#111" stroke-width="0.15" text-anchor="middle">45</text>
<text x="212" y="183" font-family="'Liberation Serif', 'DejaVu Serif', serif" font-size="9.1" font-weight="bold" fill="#111" stroke="#111" stroke-width="0.15" text-anchor="middle">50</text>
<text x="131" y="199" font-family="'Liberation Serif', 'DejaVu Serif', serif" font-size="14" font-weight="bold" font-style="italic" fill="#111" text-anchor="middle">um</text>
<text transform="translate(32.6,89.4) rotate(-90)" font-family="'Liberation Serif', 'DejaVu Serif', serif" font-size="14" font-weight="bold" font-style="italic" fill="#111" text-anchor="middle">um</text>
<text transform="translate(44.2,391.5) rotate(-90)" font-family="'Liberation Serif', 'DejaVu Serif', serif" font-size="9.1" font-weight="bold" fill="#111" stroke="#111" stroke-width="0.15" text-anchor="middle">0</text>
<text transform="translate(44.2,376.6) rotate(-90)" font-family="'Liberation Serif', 'DejaVu Serif', serif" font-size="9.1" font-weight="bold" fill="#111" stroke="#111" stroke-width="0.15" text-anchor="middle">5</text>
<text transform="translate(44.2,359.8) rotate(-90)" font-family="'Liberation Serif', 'DejaVu Serif', serif" font-size="9.1" font-weight="bold" fill="#111" stroke="#111" stroke-width="0.15" text-anchor="middle">10</text>
<text transform="translate(44.2,343) rotate(-90)" font-family="'Liberation Serif', 'DejaVu Serif', serif" font-size="9.1" font-weight="bold" fill="#111" stroke="#111" stroke-width="0.15" text-anchor="middle">15</text>
<text transform="translate(44.2,326.2) rotate(-90)" font-family="'Liberation Serif', 'DejaVu Serif', serif" font-size="9.1" font-weight="bold" fill="#111" stroke="#111" stroke-width="0.15" text-anchor="middle">20</text>
<text transform="translate(44.2,309.4) rotate(-90)" font-family="'Liberation Serif', 'DejaVu Serif', serif" font-size="9.1" font-weight="bold" fill="#111" stroke="#111" stroke-width="0.15" text-anchor="middle">25</text>
<text transform="translate(44.2,292.6) rotate(-90)" font-family="'Liberation Serif', 'DejaVu Serif', serif" font-size="9.1" font-weight="bold" fill="#111" stroke="#111" stroke-width="0.15" text-anchor="middle">30</text>
<text transform="translate(44.2,275.5) rotate(-90)" font-family="'Liberation Serif', 'DejaVu Serif', serif" font-size="9.1" font-weight="bold" fill="#111" stroke="#111" stroke-width="0.15" text-anchor="middle">35</text>
<text transform="translate(44.2,260) rotate(-90)" font-family="'Liberation Serif', 'DejaVu Serif', serif" font-size="9.1" font-weight="bold" fill="#111" stroke="#111" stroke-width="0.15" text-anchor="middle">40</text>
<text transform="translate(44.2,240.3) rotate(-90)" font-family="'Liberation Serif', 'DejaVu Serif', serif" font-size="9.1" font-weight="bold" fill="#111" stroke="#111" stroke-width="0.15" text-anchor="middle">45</text>
<text transform="translate(44.2,230.6) rotate(-90)" font-family="'Liberation Serif', 'DejaVu Serif', serif" font-size="9.1" font-weight="bold" fill="#111" stroke="#111" stroke-width="0.15" text-anchor="middle">50</text>
<text x="50" y="404" font-family="'Liberation Serif', 'DejaVu Serif', serif" font-size="9.1" font-weight="bold" fill="#111" stroke="#111" stroke-width="0.15" text-anchor="middle">0</text>
<text x="65.5" y="404" font-family="'Liberation Serif', 'DejaVu Serif', serif" font-size="9.1" font-weight="bold" fill="#111" stroke="#111" stroke-width="0.15" text-anchor="middle">5</text>
<text x="82" y="404" font-family="'Liberation Serif', 'DejaVu Serif', serif" font-size="9.1" font-weight="bold" fill="#111" stroke="#111" stroke-width="0.15" text-anchor="middle">10</text>
<text x="98.7" y="404" font-family="'Liberation Serif', 'DejaVu Serif', serif" font-size="9.1" font-weight="bold" fill="#111" stroke="#111" stroke-width="0.15" text-anchor="middle">15</text>
<text x="115" y="404" font-family="'Liberation Serif', 'DejaVu Serif', serif" font-size="9.1" font-weight="bold" fill="#111" stroke="#111" stroke-width="0.15" text-anchor="middle">20</text>
<text x="132" y="404" font-family="'Liberation Serif', 'DejaVu Serif', serif" font-size="9.1" font-weight="bold" fill="#111" stroke="#111" stroke-width="0.15" text-anchor="middle">25</text>
<text x="149" y="404" font-family="'Liberation Serif', 'DejaVu Serif', serif" font-size="9.1" font-weight="bold" fill="#111" stroke="#111" stroke-width="0.15" text-anchor="middle">30</text>
<text x="165.7" y="404" font-family="'Liberation Serif', 'DejaVu Serif', serif" font-size="9.1" font-weight="bold" fill="#111" stroke="#111" stroke-width="0.15" text-anchor="middle">35</text>
<text x="182.3" y="404" font-family="'Liberation Serif', 'DejaVu Serif', serif" font-size="9.1" font-weight="bold" fill="#111" stroke="#111" stroke-width="0.15" text-anchor="middle">40</text>
<text x="199.5" y="404" font-family="'Liberation Serif', 'DejaVu Serif', serif" font-size="9.1" font-weight="bold" fill="#111" stroke="#111" stroke-width="0.15" text-anchor="middle">45</text>
<text x="212" y="404" font-family="'Liberation Serif', 'DejaVu Serif', serif" font-size="9.1" font-weight="bold" fill="#111" stroke="#111" stroke-width="0.15" text-anchor="middle">50</text>
<text x="131" y="420" font-family="'Liberation Serif', 'DejaVu Serif', serif" font-size="14" font-weight="bold" font-style="italic" fill="#111" text-anchor="middle">um</text>
<text transform="translate(32.6,311.3) rotate(-90)" font-family="'Liberation Serif', 'DejaVu Serif', serif" font-size="14" font-weight="bold" font-style="italic" fill="#111" text-anchor="middle">um</text>
<line x1="46.8" y1="172.8" x2="48" y2="172.8" stroke="#555" stroke-width="0.5"/>
<line x1="46.8" y1="169.53" x2="48" y2="169.53" stroke="#555" stroke-width="0.5"/>
<line x1="46.8" y1="166.26" x2="48" y2="166.26" stroke="#555" stroke-width="0.5"/>
<line x1="46.8" y1="162.98" x2="48" y2="162.98" stroke="#555" stroke-width="0.5"/>
<line x1="46.8" y1="159.71" x2="48" y2="159.71" stroke="#555" stroke-width="0.5"/>
<line x1="46.8" y1="156.44" x2="48" y2="156.44" stroke="#555" stroke-width="0.5"/>
<line x1="46.8" y1="153.17" x2="48" y2="153.17" stroke="#555" stroke-width="0.5"/>
<line x1="46.8" y1="149.9" x2="48" y2="149.9" stroke="#555" stroke-width="0.5"/>
<line x1="46.8" y1="146.63" x2="48" y2="146.63" stroke="#555" stroke-width="0.5"/>
<line x1="46.8" y1="143.35" x2="48" y2="143.35" stroke="#555" stroke-width="0.5"/>
<line x1="46.8" y1="140.08" x2="48" y2="140.08" stroke="#555" stroke-width="0.5"/>
<line x1="46.8" y1="136.81" x2="48" y2="136.81" stroke="#555" stroke-width="0.5"/>
<line x1="46.8" y1="133.54" x2="48" y2="133.54" stroke="#555" stroke-width="0.5"/>
<line x1="46.8" y1="130.27" x2="48" y2="130.27" stroke="#555" stroke-width="0.5"/>
<line x1="46.8" y1="126.99" x2="48" y2="126.99" stroke="#555" stroke-width="0.5"/>
<line x1="46.8" y1="123.72" x2="48" y2="123.72" stroke="#555" stroke-width="0.5"/>
<line x1="46.8" y1="120.45" x2="48" y2="120.45" stroke="#555" stroke-width="0.5"/>
<line x1="46.8" y1="117.18" x2="48" y2="117.18" stroke="#555" stroke-width="0.5"/>
<line x1="46.8" y1="113.91" x2="48" y2="113.91" stroke="#555" stroke-width="0.5"/>
<line x1="46.8" y1="110.63" x2="48" y2="110.63" stroke="#555" stroke-width="0.5"/>
<line x1="46.8" y1="107.36" x2="48" y2="107.36" stroke="#555" stroke-width="0.5"/>
<line x1="46.8" y1="104.09" x2="48" y2="104.09" stroke="#555" stroke-width="0.5"/>
<line x1="46.8" y1="100.82" x2="48" y2="100.82" stroke="#555" stroke-width="0.5"/>
<line x1="46.8" y1="97.55" x2="48" y2="97.55" stroke="#555" stroke-width="0.5"/>
<line x1="46.8" y1="94.28" x2="48" y2="94.28" stroke="#555" stroke-width="0.5"/>
<line x1="46.8" y1="91" x2="48" y2="91" stroke="#555" stroke-width="0.5"/>
<line x1="46.8" y1="87.73" x2="48" y2="87.73" stroke="#555" stroke-width="0.5"/>
<line x1="46.8" y1="84.46" x2="48" y2="84.46" stroke="#555" stroke-width="0.5"/>
<line x1="46.8" y1="81.19" x2="48" y2="81.19" stroke="#555" stroke-width="0.5"/>
<line x1="46.8" y1="77.92" x2="48" y2="77.92" stroke="#555" stroke-width="0.5"/>
<line x1="46.8" y1="74.64" x2="48" y2="74.64" stroke="#555" stroke-width="0.5"/>
<line x1="46.8" y1="71.37" x2="48" y2="71.37" stroke="#555" stroke-width="0.5"/>
<line x1="46.8" y1="68.1" x2="48" y2="68.1" stroke="#555" stroke-width="0.5"/>
<line x1="46.8" y1="64.83" x2="48" y2="64.83" stroke="#555" stroke-width="0.5"/>
<line x1="46.8" y1="61.56" x2="48" y2="61.56" stroke="#555" stroke-width="0.5"/>
<line x1="46.8" y1="58.29" x2="48" y2="58.29" stroke="#555" stroke-width="0.5"/>
<line x1="46.8" y1="55.01" x2="48" y2="55.01" stroke="#555" stroke-width="0.5"/>
<line x1="46.8" y1="51.74" x2="48" y2="51.74" stroke="#555" stroke-width="0.5"/>
<line x1="46.8" y1="48.47" x2="48" y2="48.47" stroke="#555" stroke-width="0.5"/>
<line x1="46.8" y1="45.2" x2="48" y2="45.2" stroke="#555" stroke-width="0.5"/>
<line x1="46.8" y1="41.93" x2="48" y2="41.93" stroke="#555" stroke-width="0.5"/>
<line x1="46.8" y1="38.65" x2="48" y2="38.65" stroke="#555" stroke-width="0.5"/>
<line x1="46.8" y1="35.38" x2="48" y2="35.38" stroke="#555" stroke-width="0.5"/>
<line x1="46.8" y1="32.11" x2="48" y2="32.11" stroke="#555" stroke-width="0.5"/>
<line x1="46.8" y1="28.84" x2="48" y2="28.84" stroke="#555" stroke-width="0.5"/>
<line x1="46.8" y1="25.57" x2="48" y2="25.57" stroke="#555" stroke-width="0.5"/>
<line x1="46.8" y1="22.3" x2="48" y2="22.3" stroke="#555" stroke-width="0.5"/>
<line x1="46.8" y1="19.02" x2="48" y2="19.02" stroke="#555" stroke-width="0.5"/>
<line x1="46.8" y1="15.75" x2="48" y2="15.75" stroke="#555" stroke-width="0.5"/>
<line x1="46.8" y1="12.48" x2="48" y2="12.48" stroke="#555" stroke-width="0.5"/>
<line x1="46.8" y1="9.21" x2="48" y2="9.21" stroke="#555" stroke-width="0.5"/>
<line x1="48" y1="172.8" x2="48" y2="174" stroke="#555" stroke-width="0.5"/>
<line x1="51.28" y1="172.8" x2="51.28" y2="174" stroke="#555" stroke-width="0.5"/>
<line x1="54.56" y1="172.8" x2="54.56" y2="174" stroke="#555" stroke-width="0.5"/>
<line x1="57.84" y1="172.8" x2="57.84" y2="174" stroke="#555" stroke-width="0.5"/>
<line x1="61.13" y1="172.8" x2="61.13" y2="174" stroke="#555" stroke-width="0.5"/>
<line x1="64.41" y1="172.8" x2="64.41" y2="174" stroke="#555" stroke-width="0.5"/>
<line x1="67.69" y1="172.8" x2="67.69" y2="174" stroke="#555" stroke-width="0.5"/>
<line x1="70.97" y1="172.8" x2="70.97" y2="174" stroke="#555" stroke-width="0.5"/>
<line x1="74.25" y1="172.8" x2="74.25" y2="174" stroke="#555" stroke-width="0.5"/>
<line x1="77.53" y1="172.8" x2="77.53" y2="174" stroke="#555" stroke-width="0.5"/>
<line x1="80.82" y1="172.8" x2="80.82" y2="174" stroke="#555" stroke-width="0.5"/>
<line x1="84.1" y1="172.8" x2="84.1" y2="174" stroke="#555" stroke-width="0.5"/>
<line x1="87.38" y1="172.8" x2="87.38" y2="174" stroke="#555" stroke-width="0.5"/>
<line x1="90.66" y1="172.8" x2="90.66" y2="174" stroke="#555" stroke-width="0.5"/>
<line x1="93.94" y1="172.8" x2="93.94" y2="174" stroke="#555" stroke-width="0.5"/>
<line x1="97.22" y1="172.8" x2="97.22" y2="174" stroke="#555" stroke-width="0.5"/>
<line x1="100.5" y1="172.8" x2="100.5" y2="174" stroke="#555" stroke-width="0.5"/>
<line x1="103.79" y1="172.8" x2="103.79" y2="174" stroke="#555" stroke-width="0.5"/>
<line x1="107.07" y1="172.8" x2="107.07" y2="174" stroke="#555" stroke-width="0.5"/>
<line x1="110.35" y1="172.8" x2="110.35" y2="174" stroke="#555" stroke-width="0.5"/>
<line x1="113.63" y1="172.8" x2="113.63" y2="174" stroke="#555" stroke-width="0.5"/>
<line x1="116.91" y1="172.8" x2="116.91" y2="174" stroke="#555" stroke-width="0.5"/>
<line x1="120.19" y1="172.8" x2="120.19" y2="174" stroke="#555" stroke-width="0.5"/>
<line x1="123.48" y1="172.8" x2="123.48" y2="174" stroke="#555" stroke-width="0.5"/>
<line x1="126.76" y1="172.8" x2="126.76" y2="174" stroke="#555" stroke-width="0.5"/>
<line x1="130.04" y1="172.8" x2="130.04" y2="174" stroke="#555" stroke-width="0.5"/>
<line x1="133.32" y1="172.8" x2="133.32" y2="174" stroke="#555" stroke-width="0.5"/>
<line x1="136.6" y1="172.8" x2="136.6" y2="174" stroke="#555" stroke-width="0.5"/>
<line x1="139.88" y1="172.8" x2="139.88" y2="174" stroke="#555" stroke-width="0.5"/>
<line x1="143.17" y1="172.8" x2="143.17" y2="174" stroke="#555" stroke-width="0.5"/>
<line x1="146.45" y1="172.8" x2="146.45" y2="174" stroke="#555" stroke-width="0.5"/>
<line x1="149.73" y1="172.8" x2="149.73" y2="174" stroke="#555" stroke-width="0.5"/>
<line x1="153.01" y1="172.8" x2="153.01" y2="174" stroke="#555" stroke-width="0.5"/>
<line x1="156.29" y1="172.8" x2="156.29" y2="174" stroke="#555" stroke-width="0.5"/>
<line x1="159.57" y1="172.8" x2="159.57" y2="174" stroke="#555" stroke-width="0.5"/>
<line x1="162.85" y1="172.8" x2="162.85" y2="174" stroke="#555" stroke-width="0.5"/>
<line x1="166.14" y1="172.8" x2="166.14" y2="174" stroke="#555" stroke-width="0.5"/>
<line x1="169.42" y1="172.8" x2="169.42" y2="174" stroke="#555" stroke-width="0.5"/>
<line x1="172.7" y1="172.8" x2="172.7" y2="174" stroke="#555" stroke-width="0.5"/>
<line x1="175.98" y1="172.8" x2="175.98" y2="174" stroke="#555" stroke-width="0.5"/>
<line x1="179.26" y1="172.8" x2="179.26" y2="174" stroke="#555" stroke-width="0.5"/>
<line x1="182.54" y1="172.8" x2="182.54" y2="174" stroke="#555" stroke-width="0.5"/>
<line x1="185.83" y1="172.8" x2="185.83" y2="174" stroke="#555" stroke-width="0.5"/>
<line x1="189.11" y1="172.8" x2="189.11" y2="174" stroke="#555" stroke-width="0.5"/>
<line x1="192.39" y1="172.8" x2="192.39" y2="174" stroke="#555" stroke-width="0.5"/>
<line x1="195.67" y1="172.8" x2="195.67" y2="174" stroke="#555" stroke-width="0.5"/>
<line x1="198.95" y1="172.8" x2="198.95" y2="174" stroke="#555" stroke-width="0.5"/>
<line x1="202.23" y1="172.8" x2="202.23" y2="174" stroke="#555" stroke-width="0.5"/>
<line x1="205.51" y1="172.8" x2="205.51" y2="174" stroke="#555" stroke-width="0.5"/>
<line x1="208.8" y1="172.8" x2="208.8" y2="174" stroke="#555" stroke-width="0.5"/>
<line x1="212.08" y1="172.8" x2="212.08" y2="174" stroke="#555" stroke-width="0.5"/>
<line x1="46.4" y1="394.3" x2="47.6" y2="394.3" stroke="#555" stroke-width="0.5"/>
<line x1="46.4" y1="391.03" x2="47.6" y2="391.03" stroke="#555" stroke-width="0.5"/>
<line x1="46.4" y1="387.76" x2="47.6" y2="387.76" stroke="#555" stroke-width="0.5"/>
<line x1="46.4" y1="384.5" x2="47.6" y2="384.5" stroke="#555" stroke-width="0.5"/>
<line x1="46.4" y1="381.23" x2="47.6" y2="381.23" stroke="#555" stroke-width="0.5"/>
<line x1="46.4" y1="377.96" x2="47.6" y2="377.96" stroke="#555" stroke-width="0.5"/>
<line x1="46.4" y1="374.69" x2="47.6" y2="374.69" stroke="#555" stroke-width="0.5"/>
<line x1="46.4" y1="371.42" x2="47.6" y2="371.42" stroke="#555" stroke-width="0.5"/>
<line x1="46.4" y1="368.16" x2="47.6" y2="368.16" stroke="#555" stroke-width="0.5"/>
<line x1="46.4" y1="364.89" x2="47.6" y2="364.89" stroke="#555" stroke-width="0.5"/>
<line x1="46.4" y1="361.62" x2="47.6" y2="361.62" stroke="#555" stroke-width="0.5"/>
<line x1="46.4" y1="358.35" x2="47.6" y2="358.35" stroke="#555" stroke-width="0.5"/>
<line x1="46.4" y1="355.08" x2="47.6" y2="355.08" stroke="#555" stroke-width="0.5"/>
<line x1="46.4" y1="351.82" x2="47.6" y2="351.82" stroke="#555" stroke-width="0.5"/>
<line x1="46.4" y1="348.55" x2="47.6" y2="348.55" stroke="#555" stroke-width="0.5"/>
<line x1="46.4" y1="345.28" x2="47.6" y2="345.28" stroke="#555" stroke-width="0.5"/>
<line x1="46.4" y1="342.01" x2="47.6" y2="342.01" stroke="#555" stroke-width="0.5"/>
<line x1="46.4" y1="338.74" x2="47.6" y2="338.74" stroke="#555" stroke-width="0.5"/>
<line x1="46.4" y1="335.48" x2="47.6" y2="335.48" stroke="#555" stroke-width="0.5"/>
<line x1="46.4" y1="332.21" x2="47.6" y2="332.21" stroke="#555" stroke-width="0.5"/>
<line x1="46.4" y1="328.94" x2="47.6" y2="328.94" stroke="#555" stroke-width="0.5"/>
<line x1="46.4" y1="325.67" x2="47.6" y2="325.67" stroke="#555" stroke-width="0.5"/>
<line x1="46.4" y1="322.4" x2="47.6" y2="322.4" stroke="#555" stroke-width="0.5"/>
<line x1="46.4" y1="319.14" x2="47.6" y2="319.14" stroke="#555" stroke-width="0.5"/>
<line x1="46.4" y1="315.87" x2="47.6" y2="315.87" stroke="#555" stroke-width="0.5"/>
<line x1="46.4" y1="312.6" x2="47.6" y2="312.6" stroke="#555" stroke-width="0.5"/>
<line x1="46.4" y1="309.33" x2="47.6" y2="309.33" stroke="#555" stroke-width="0.5"/>
<line x1="46.4" y1="306.07" x2="47.6" y2="306.07" stroke="#555" stroke-width="0.5"/>
<line x1="46.4" y1="302.8" x2="47.6" y2="302.8" stroke="#555" stroke-width="0.5"/>
<line x1="46.4" y1="299.53" x2="47.6" y2="299.53" stroke="#555" stroke-width="0.5"/>
<line x1="46.4" y1="296.26" x2="47.6" y2="296.26" stroke="#555" stroke-width="0.5"/>
<line x1="46.4" y1="292.99" x2="47.6" y2="292.99" stroke="#555" stroke-width="0.5"/>
<line x1="46.4" y1="289.73" x2="47.6" y2="289.73" stroke="#555" stroke-width="0.5"/>
<line x1="46.4" y1="286.46" x2="47.6" y2="286.46" stroke="#555" stroke-width="0.5"/>
<line x1="46.4" y1="283.19" x2="47.6" y2="283.19" stroke="#555" stroke-width="0.5"/>
<line x1="46.4" y1="279.92" x2="47.6" y2="279.92" stroke="#555" stroke-width="0.5"/>
<line x1="46.4" y1="276.65" x2="47.6" y2="276.65" stroke="#555" stroke-width="0.5"/>
<line x1="46.4" y1="273.39" x2="47.6" y2="273.39" stroke="#555" stroke-width="0.5"/>
<line x1="46.4" y1="270.12" x2="47.6" y2="270.12" stroke="#555" stroke-width="0.5"/>
<line x1="46.4" y1="266.85" x2="47.6" y2="266.85" stroke="#555" stroke-width="0.5"/>
<line x1="46.4" y1="263.58" x2="47.6" y2="263.58" stroke="#555" stroke-width="0.5"/>
<line x1="46.4" y1="260.31" x2="47.6" y2="260.31" stroke="#555" stroke-width="0.5"/>
<line x1="46.4" y1="257.05" x2="47.6" y2="257.05" stroke="#555" stroke-width="0.5"/>
<line x1="46.4" y1="253.78" x2="47.6" y2="253.78" stroke="#555" stroke-width="0.5"/>
<line x1="46.4" y1="250.51" x2="47.6" y2="250.51" stroke="#555" stroke-width="0.5"/>
<line x1="46.4" y1="247.24" x2="47.6" y2="247.24" stroke="#555" stroke-width="0.5"/>
<line x1="46.4" y1="243.97" x2="47.6" y2="243.97" stroke="#555" stroke-width="0.5"/>
<line x1="46.4" y1="240.71" x2="47.6" y2="240.71" stroke="#555" stroke-width="0.5"/>
<line x1="46.4" y1="237.44" x2="47.6" y2="237.44" stroke="#555" stroke-width="0.5"/>
<line x1="46.4" y1="234.17" x2="47.6" y2="234.17" stroke="#555" stroke-width="0.5"/>
<line x1="46.4" y1="230.9" x2="47.6" y2="230.9" stroke="#555" stroke-width="0.5"/>
<line x1="47.6" y1="394.3" x2="47.6" y2="395.5" stroke="#555" stroke-width="0.5"/>
<line x1="50.89" y1="394.3" x2="50.89" y2="395.5" stroke="#555" stroke-width="0.5"/>
<line x1="54.17" y1="394.3" x2="54.17" y2="395.5" stroke="#555" stroke-width="0.5"/>
<line x1="57.46" y1="394.3" x2="57.46" y2="395.5" stroke="#555" stroke-width="0.5"/>
<line x1="60.74" y1="394.3" x2="60.74" y2="395.5" stroke="#555" stroke-width="0.5"/>
<line x1="64.03" y1="394.3" x2="64.03" y2="395.5" stroke="#555" stroke-width="0.5"/>
<line x1="67.31" y1="394.3" x2="67.31" y2="395.5" stroke="#555" stroke-width="0.5"/>
<line x1="70.6" y1="394.3" x2="70.6" y2="395.5" stroke="#555" stroke-width="0.5"/>
<line x1="73.88" y1="394.3" x2="73.88" y2="395.5" stroke="#555" stroke-width="0.5"/>
<line x1="77.17" y1="394.3" x2="77.17" y2="395.5" stroke="#555" stroke-width="0.5"/>
<line x1="80.45" y1="394.3" x2="80.45" y2="395.5" stroke="#555" stroke-width="0.5"/>
<line x1="83.74" y1="394.3" x2="83.74" y2="395.5" stroke="#555" stroke-width="0.5"/>
<line x1="87.03" y1="394.3" x2="87.03" y2="395.5" stroke="#555" stroke-width="0.5"/>
<line x1="90.31" y1="394.3" x2="90.31" y2="395.5" stroke="#555" stroke-width="0.5"/>
<line x1="93.6" y1="394.3" x2="93.6" y2="395.5" stroke="#555" stroke-width="0.5"/>
<line x1="96.88" y1="394.3" x2="96.88" y2="395.5" stroke="#555" stroke-width="0.5"/>
<line x1="100.17" y1="394.3" x2="100.17" y2="395.5" stroke="#555" stroke-width="0.5"/>
<line x1="103.45" y1="394.3" x2="103.45" y2="395.5" stroke="#555" stroke-width="0.5"/>
<line x1="106.74" y1="394.3" x2="106.74" y2="395.5" stroke="#555" stroke-width="0.5"/>
<line x1="110.02" y1="394.3" x2="110.02" y2="395.5" stroke="#555" stroke-width="0.5"/>
<line x1="113.31" y1="394.3" x2="113.31" y2="395.5" stroke="#555" stroke-width="0.5"/>
<line x1="116.59" y1="394.3" x2="116.59" y2="395.5" stroke="#555" stroke-width="0.5"/>
<line x1="119.88" y1="394.3" x2="119.88" y2="395.5" stroke="#555" stroke-width="0.5"/>
<line x1="123.17" y1="394.3" x2="123.17" y2="395.5" stroke="#555" stroke-width="0.5"/>
<line x1="126.45" y1="394.3" x2="126.45" y2="395.5" stroke="#555" stroke-width="0.5"/>
<line x1="129.74" y1="394.3" x2="129.74" y2="395.5" stroke="#555" stroke-width="0.5"/>
<line x1="133.02" y1="394.3" x2="133.02" y2="395.5" stroke="#555" stroke-width="0.5"/>
<line x1="136.31" y1="394.3" x2="136.31" y2="395.5" stroke="#555" stroke-width="0.5"/>
<line x1="139.59" y1="394.3" x2="139.59" y2="395.5" stroke="#555" stroke-width="0.5"/>
<line x1="142.88" y1="394.3" x2="142.88" y2="395.5" stroke="#555" stroke-width="0.5"/>
<line x1="146.16" y1="394.3" x2="146.16" y2="395.5" stroke="#555" stroke-width="0.5"/>
<line x1="149.45" y1="394.3" x2="149.45" y2="395.5" stroke="#555" stroke-width="0.5"/>
<line x1="152.73" y1="394.3" x2="152.73" y2="395.5" stroke="#555" stroke-width="0.5"/>
<line x1="156.02" y1="394.3" x2="156.02" y2="395.5" stroke="#555" stroke-width="0.5"/>
<line x1="159.3" y1="394.3" x2="159.3" y2="395.5" stroke="#555" stroke-width="0.5"/>
<line x1="162.59" y1="394.3" x2="162.59" y2="395.5" stroke="#555" stroke-width="0.5"/>
<line x1="165.88" y1="394.3" x2="165.88" y2="395.5" stroke="#555" stroke-width="0.5"/>
<line x1="169.16" y1="394.3" x2="169.16" y2="395.5" stroke="#555" stroke-width="0.5"/>
<line x1="172.45" y1="394.3" x2="172.45" y2="395.5" stroke="#555" stroke-width="0.5"/>
<line x1="175.73" y1="394.3" x2="175.73" y2="395.5" stroke="#555" stroke-width="0.5"/>
<line x1="179.02" y1="394.3" x2="179.02" y2="395.5" stroke="#555" stroke-width="0.5"/>
<line x1="182.3" y1="394.3" x2="182.3" y2="395.5" stroke="#555" stroke-width="0.5"/>
<line x1="185.59" y1="394.3" x2="185.59" y2="395.5" stroke="#555" stroke-width="0.5"/>
<line x1="188.87" y1="394.3" x2="188.87" y2="395.5" stroke="#555" stroke-width="0.5"/>
<line x1="192.16" y1="394.3" x2="192.16" y2="395.5" stroke="#555" stroke-width="0.5"/>
<line x1="195.44" y1="394.3" x2="195.44" y2="395.5" stroke="#555" stroke-width="0.5"/>
<line x1="198.73" y1="394.3" x2="198.73" y2="395.5" stroke="#555" stroke-width="0.5"/>
<line x1="202.02" y1="394.3" x2="202.02" y2="395.5" stroke="#555" stroke-width="0.5"/>
<line x1="205.3" y1="394.3" x2="205.3" y2="395.5" stroke="#555" stroke-width="0.5"/>
<line x1="208.59" y1="394.3" x2="208.59" y2="395.5" stroke="#555" stroke-width="0.5"/>
<line x1="211.87" y1="394.3" x2="211.87" y2="395.5" stroke="#555" stroke-width="0.5"/>
<rect x="247.8" y="4.2" width="3.6" height="168.3" fill="url(#cbarA)" stroke="#888" stroke-width="0.6"/>
<rect x="247.8" y="225.9" width="3.6" height="168.9" fill="url(#cbarC)" stroke="#888" stroke-width="0.6"/>
<text transform="translate(244,9.4) rotate(-90)" font-family="'Liberation Serif', 'DejaVu Serif', serif" font-size="9.1" font-weight="bold" fill="#111" stroke="#111" stroke-width="0.15" text-anchor="middle">20</text>
<text transform="translate(244,39.8) rotate(-90)" font-family="'Liberation Serif', 'DejaVu Serif', serif" font-size="9.1" font-weight="bold" fill="#111" stroke="#111" stroke-width="0.15" text-anchor="middle">10</text>
<text transform="translate(244,69.8) rotate(-90)" font-family="'Liberation Serif', 'DejaVu Serif', serif" font-size="9.1" font-weight="bold" fill="#111" stroke="#111" stroke-width="0.15" text-anchor="middle">0</text>
<text transform="translate(244,100) rotate(-90)" font-family="'Liberation Serif', 'DejaVu Serif', serif" font-size="9.1" font-weight="bold" fill="#111" stroke="#111" stroke-width="0.15" text-anchor="middle">-10</text>
<text transform="translate(244,130) rotate(-90)" font-family="'Liberation Serif', 'DejaVu Serif', serif" font-size="9.1" font-weight="bold" fill="#111" stroke="#111" stroke-width="0.15" text-anchor="middle">-20</text>
<text transform="translate(244,160) rotate(-90)" font-family="'Liberation Serif', 'DejaVu Serif', serif" font-size="9.1" font-weight="bold" fill="#111" stroke="#111" stroke-width="0.15" text-anchor="middle">-30</text>
<text transform="translate(244,238.6) rotate(-90)" font-family="'Liberation Serif', 'DejaVu Serif', serif" font-size="9.1" font-weight="bold" fill="#111" stroke="#111" stroke-width="0.15" text-anchor="middle">140</text>
<text transform="translate(244,264.6) rotate(-90)" font-family="'Liberation Serif', 'DejaVu Serif', serif" font-size="9.1" font-weight="bold" fill="#111" stroke="#111" stroke-width="0.15" text-anchor="middle">120</text>
<text transform="translate(244,291.8) rotate(-90)" font-family="'Liberation Serif', 'DejaVu Serif', serif" font-size="9.1" font-weight="bold" fill="#111" stroke="#111" stroke-width="0.15" text-anchor="middle">100</text>
<text transform="translate(244,317.6) rotate(-90)" font-family="'Liberation Serif', 'DejaVu Serif', serif" font-size="9.1" font-weight="bold" fill="#111" stroke="#111" stroke-width="0.15" text-anchor="middle">80</text>
<text transform="translate(244,343.3) rotate(-90)" font-family="'Liberation Serif', 'DejaVu Serif', serif" font-size="9.1" font-weight="bold" fill="#111" stroke="#111" stroke-width="0.15" text-anchor="middle">60</text>
<text transform="translate(244,369.5) rotate(-90)" font-family="'Liberation Serif', 'DejaVu Serif', serif" font-size="9.1" font-weight="bold" fill="#111" stroke="#111" stroke-width="0.15" text-anchor="middle">40</text>
<text transform="translate(264.6,90.3) rotate(-90)" font-family="'Liberation Serif', 'DejaVu Serif', serif" font-size="14.5" font-weight="bold" font-style="italic" fill="#111" text-anchor="middle">mV</text>
<text transform="translate(264.6,311) rotate(-90)" font-family="'Liberation Serif', 'DejaVu Serif', serif" font-size="14.5" font-weight="bold" font-style="italic" fill="#111" text-anchor="middle">mV</text>
<text x="4.3" y="19.6" font-family="'Liberation Serif', 'DejaVu Serif', serif" font-size="23" fill="#000" stroke="#000" stroke-width="0.3">(a)</text>
<text x="4.4" y="240.3" font-family="'Liberation Serif', 'DejaVu Serif', serif" font-size="23" fill="#000" stroke="#000" stroke-width="0.3">(c)</text>
<text x="281.3" y="19.6" font-family="'Liberation Serif', 'DejaVu Serif', serif" font-size="23" fill="#000" stroke="#000" stroke-width="0.3">(b)</text>
<text x="281.3" y="240.8" font-family="'Liberation Serif', 'DejaVu Serif', serif" font-size="23" fill="#000" stroke="#000" stroke-width="0.3">(d)</text>
<rect x="375.9" y="28.7" width="108" height="365.5" fill="#fdf2d5"/>
<text x="326.3" y="18.6" font-family="'Liberation Serif', 'DejaVu Serif', serif" font-size="17" fill="#000">Flat</text>
<text x="410" y="18.6" font-family="'Liberation Serif', 'DejaVu Serif', serif" font-size="17" fill="#000">Etched</text>
<text x="505.8" y="18.6" font-family="'Liberation Serif', 'DejaVu Serif', serif" font-size="17" fill="#000">Flat</text>
<line x1="385" y1="15.9" x2="404" y2="15.9" stroke="#444" stroke-width="1"/>
<polygon points="375.9,15.9 385,11.4 385,20.4" fill="#000"/>
<line x1="465" y1="15.9" x2="475" y2="15.9" stroke="#444" stroke-width="1"/>
<polygon points="484,15.9 475,11.4 475,20.4" fill="#000"/>
<line x1="341.5" y1="46.4" x2="510" y2="46.4" stroke="#8a8a8a" stroke-width="1"/>
<line x1="341.5" y1="46.4" x2="341.5" y2="171.1" stroke="#8a8a8a" stroke-width="1"/>
<line x1="341.5" y1="171.1" x2="510" y2="171.1" stroke="#7a7a7a" stroke-width="1"/>
<line x1="510" y1="46.4" x2="510" y2="171.1" stroke="#6f6fff" stroke-width="1"/>
<line x1="341.5" y1="171.1" x2="341.5" y2="169.1" stroke="#777" stroke-width="0.7"/>
<line x1="358.35" y1="171.1" x2="358.35" y2="169.9" stroke="#777" stroke-width="0.7"/>
<line x1="375.2" y1="171.1" x2="375.2" y2="169.1" stroke="#777" stroke-width="0.7"/>
<line x1="392.05" y1="171.1" x2="392.05" y2="169.9" stroke="#777" stroke-width="0.7"/>
<line x1="408.9" y1="171.1" x2="408.9" y2="169.1" stroke="#777" stroke-width="0.7"/>
<line x1="425.75" y1="171.1" x2="425.75" y2="169.9" stroke="#777" stroke-width="0.7"/>
<line x1="442.6" y1="171.1" x2="442.6" y2="169.1" stroke="#777" stroke-width="0.7"/>
<line x1="459.45" y1="171.1" x2="459.45" y2="169.9" stroke="#777" stroke-width="0.7"/>
<line x1="476.3" y1="171.1" x2="476.3" y2="169.1" stroke="#777" stroke-width="0.7"/>
<line x1="493.15" y1="171.1" x2="493.15" y2="169.9" stroke="#777" stroke-width="0.7"/>
<line x1="510" y1="171.1" x2="510" y2="169.1" stroke="#777" stroke-width="0.7"/>
<text x="341.5" y="180" font-family="'Liberation Sans', 'DejaVu Sans', sans-serif" font-size="6.8" font-weight="bold" fill="#111" stroke="#111" stroke-width="0.1" text-anchor="middle">0</text>
<text x="375.2" y="180" font-family="'Liberation Sans', 'DejaVu Sans', sans-serif" font-size="6.8" font-weight="bold" fill="#111" stroke="#111" stroke-width="0.1" text-anchor="middle">10</text>
<text x="408.9" y="180" font-family="'Liberation Sans', 'DejaVu Sans', sans-serif" font-size="6.8" font-weight="bold" fill="#111" stroke="#111" stroke-width="0.1" text-anchor="middle">20</text>
<text x="442.6" y="180" font-family="'Liberation Sans', 'DejaVu Sans', sans-serif" font-size="6.8" font-weight="bold" fill="#111" stroke="#111" stroke-width="0.1" text-anchor="middle">30</text>
<text x="476.3" y="180" font-family="'Liberation Sans', 'DejaVu Sans', sans-serif" font-size="6.8" font-weight="bold" fill="#111" stroke="#111" stroke-width="0.1" text-anchor="middle">40</text>
<text x="510" y="180" font-family="'Liberation Sans', 'DejaVu Sans', sans-serif" font-size="6.8" font-weight="bold" fill="#111" stroke="#111" stroke-width="0.1" text-anchor="middle">50</text>
<line x1="341.5" y1="71.75" x2="342.7" y2="71.75" stroke="#777" stroke-width="0.6"/>
<line x1="341.5" y1="96.45" x2="342.7" y2="96.45" stroke="#777" stroke-width="0.6"/>
<line x1="341.5" y1="121.2" x2="342.7" y2="121.2" stroke="#777" stroke-width="0.6"/>
<line x1="341.5" y1="145.95" x2="342.7" y2="145.95" stroke="#777" stroke-width="0.6"/>
<line x1="510" y1="78.9" x2="508.8" y2="78.9" stroke="#6f6fff" stroke-width="0.6"/>
<line x1="510" y1="105.1" x2="508.8" y2="105.1" stroke="#6f6fff" stroke-width="0.6"/>
<line x1="510" y1="131.3" x2="508.8" y2="131.3" stroke="#6f6fff" stroke-width="0.6"/>
<line x1="510" y1="157.5" x2="508.8" y2="157.5" stroke="#6f6fff" stroke-width="0.6"/>
<text x="338.3" y="61.7" font-family="'Liberation Sans', 'DejaVu Sans', sans-serif" font-size="6.8" font-weight="bold" fill="#111" stroke="#111" stroke-width="0.1" text-anchor="end">0.08</text>
<line x1="341.5" y1="59.4" x2="343.5" y2="59.4" stroke="#777" stroke-width="0.7"/>
<text x="338.3" y="86.4" font-family="'Liberation Sans', 'DejaVu Sans', sans-serif" font-size="6.8" font-weight="bold" fill="#111" stroke="#111" stroke-width="0.1" text-anchor="end">0.04</text>
<line x1="341.5" y1="84.1" x2="343.5" y2="84.1" stroke="#777" stroke-width="0.7"/>
<text x="338.3" y="111.1" font-family="'Liberation Sans', 'DejaVu Sans', sans-serif" font-size="6.8" font-weight="bold" fill="#111" stroke="#111" stroke-width="0.1" text-anchor="end">0.00</text>
<line x1="341.5" y1="108.8" x2="343.5" y2="108.8" stroke="#777" stroke-width="0.7"/>
<text x="338.3" y="135.9" font-family="'Liberation Sans', 'DejaVu Sans', sans-serif" font-size="6.8" font-weight="bold" fill="#111" stroke="#111" stroke-width="0.1" text-anchor="end">-0.04</text>
<line x1="341.5" y1="133.6" x2="343.5" y2="133.6" stroke="#777" stroke-width="0.7"/>
<text x="338.3" y="160.6" font-family="'Liberation Sans', 'DejaVu Sans', sans-serif" font-size="6.8" font-weight="bold" fill="#111" stroke="#111" stroke-width="0.1" text-anchor="end">-0.08</text>
<line x1="341.5" y1="158.3" x2="343.5" y2="158.3" stroke="#777" stroke-width="0.7"/>
<text x="513" y="68.1" font-family="'Liberation Sans', 'DejaVu Sans', sans-serif" font-size="6.8" font-weight="bold" fill="#2222dd" stroke="#2222dd" stroke-width="0.1">0</text>
<line x1="510" y1="65.8" x2="508" y2="65.8" stroke="#6f6fff" stroke-width="0.7"/>
<text x="513" y="94.3" font-family="'Liberation Sans', 'DejaVu Sans', sans-serif" font-size="6.8" font-weight="bold" fill="#2222dd" stroke="#2222dd" stroke-width="0.1">-20</text>
<line x1="510" y1="92" x2="508" y2="92" stroke="#6f6fff" stroke-width="0.7"/>
<text x="513" y="120.5" font-family="'Liberation Sans', 'DejaVu Sans', sans-serif" font-size="6.8" font-weight="bold" fill="#2222dd" stroke="#2222dd" stroke-width="0.1">-40</text>
<line x1="510" y1="118.2" x2="508" y2="118.2" stroke="#6f6fff" stroke-width="0.7"/>
<text x="513" y="146.7" font-family="'Liberation Sans', 'DejaVu Sans', sans-serif" font-size="6.8" font-weight="bold" fill="#2222dd" stroke="#2222dd" stroke-width="0.1">-60</text>
<line x1="510" y1="144.4" x2="508" y2="144.4" stroke="#6f6fff" stroke-width="0.7"/>
<text x="513" y="172.9" font-family="'Liberation Sans', 'DejaVu Sans', sans-serif" font-size="6.8" font-weight="bold" fill="#2222dd" stroke="#2222dd" stroke-width="0.1">-80</text>
<line x1="510" y1="170.6" x2="508" y2="170.6" stroke="#6f6fff" stroke-width="0.7"/>
<line x1="342.6" y1="252.4" x2="510.6" y2="252.4" stroke="#8a8a8a" stroke-width="1"/>
<line x1="342.6" y1="252.4" x2="342.6" y2="377.2" stroke="#8a8a8a" stroke-width="1"/>
<line x1="342.6" y1="377.2" x2="510.6" y2="377.2" stroke="#7a7a7a" stroke-width="1"/>
<line x1="510.6" y1="252.4" x2="510.6" y2="377.2" stroke="#6f6fff" stroke-width="1"/>
<line x1="342.6" y1="377.2" x2="342.6" y2="375.2" stroke="#777" stroke-width="0.7"/>
<line x1="359.4" y1="377.2" x2="359.4" y2="376" stroke="#777" stroke-width="0.7"/>
<line x1="376.2" y1="377.2" x2="376.2" y2="375.2" stroke="#777" stroke-width="0.7"/>
<line x1="393" y1="377.2" x2="393" y2="376" stroke="#777" stroke-width="0.7"/>
<line x1="409.8" y1="377.2" x2="409.8" y2="375.2" stroke="#777" stroke-width="0.7"/>
<line x1="426.6" y1="377.2" x2="426.6" y2="376" stroke="#777" stroke-width="0.7"/>
<line x1="443.4" y1="377.2" x2="443.4" y2="375.2" stroke="#777" stroke-width="0.7"/>
<line x1="460.2" y1="377.2" x2="460.2" y2="376" stroke="#777" stroke-width="0.7"/>
<line x1="477" y1="377.2" x2="477" y2="375.2" stroke="#777" stroke-width="0.7"/>
<line x1="493.8" y1="377.2" x2="493.8" y2="376" stroke="#777" stroke-width="0.7"/>
<line x1="510.6" y1="377.2" x2="510.6" y2="375.2" stroke="#777" stroke-width="0.7"/>
<text x="342.6" y="386" font-family="'Liberation Sans', 'DejaVu Sans', sans-serif" font-size="6.8" font-weight="bold" fill="#111" stroke="#111" stroke-width="0.1" text-anchor="middle">0</text>
<text x="376.2" y="386" font-family="'Liberation Sans', 'DejaVu Sans', sans-serif" font-size="6.8" font-weight="bold" fill="#111" stroke="#111" stroke-width="0.1" text-anchor="middle">10</text>
<text x="409.8" y="386" font-family="'Liberation Sans', 'DejaVu Sans', sans-serif" font-size="6.8" font-weight="bold" fill="#111" stroke="#111" stroke-width="0.1" text-anchor="middle">20</text>
<text x="443.4" y="386" font-family="'Liberation Sans', 'DejaVu Sans', sans-serif" font-size="6.8" font-weight="bold" fill="#111" stroke="#111" stroke-width="0.1" text-anchor="middle">30</text>
<text x="477" y="386" font-family="'Liberation Sans', 'DejaVu Sans', sans-serif" font-size="6.8" font-weight="bold" fill="#111" stroke="#111" stroke-width="0.1" text-anchor="middle">40</text>
<text x="510.6" y="386" font-family="'Liberation Sans', 'DejaVu Sans', sans-serif" font-size="6.8" font-weight="bold" fill="#111" stroke="#111" stroke-width="0.1" text-anchor="middle">50</text>
<line x1="342.6" y1="272.75" x2="343.8" y2="272.75" stroke="#777" stroke-width="0.6"/>
<line x1="342.6" y1="314.5" x2="343.8" y2="314.5" stroke="#777" stroke-width="0.6"/>
<line x1="342.6" y1="356.25" x2="343.8" y2="356.25" stroke="#777" stroke-width="0.6"/>
<line x1="510.6" y1="284.65" x2="509.4" y2="284.65" stroke="#6f6fff" stroke-width="0.6"/>
<line x1="510.6" y1="311.35" x2="509.4" y2="311.35" stroke="#6f6fff" stroke-width="0.6"/>
<line x1="510.6" y1="338.05" x2="509.4" y2="338.05" stroke="#6f6fff" stroke-width="0.6"/>
<line x1="510.6" y1="364.7" x2="509.4" y2="364.7" stroke="#6f6fff" stroke-width="0.6"/>
<text x="339.4" y="254.1" font-family="'Liberation Serif', 'DejaVu Serif', serif" font-size="7.6" font-weight="bold" fill="#111" stroke="#111" stroke-width="0.1" text-anchor="end">0.15</text>
<line x1="342.6" y1="251.8" x2="344.6" y2="251.8" stroke="#777" stroke-width="0.7"/>
<text x="339.4" y="296" font-family="'Liberation Serif', 'DejaVu Serif', serif" font-size="7.6" font-weight="bold" fill="#111" stroke="#111" stroke-width="0.1" text-anchor="end">0.10</text>
<line x1="342.6" y1="293.7" x2="344.6" y2="293.7" stroke="#777" stroke-width="0.7"/>
<text x="339.4" y="337.6" font-family="'Liberation Serif', 'DejaVu Serif', serif" font-size="7.6" font-weight="bold" fill="#111" stroke="#111" stroke-width="0.1" text-anchor="end">0.05</text>
<line x1="342.6" y1="335.3" x2="344.6" y2="335.3" stroke="#777" stroke-width="0.7"/>
<text x="339.4" y="379.5" font-family="'Liberation Serif', 'DejaVu Serif', serif" font-size="7.6" font-weight="bold" fill="#111" stroke="#111" stroke-width="0.1" text-anchor="end">0.00</text>
<line x1="342.6" y1="377.2" x2="344.6" y2="377.2" stroke="#777" stroke-width="0.7"/>
<text x="513.6" y="273.6" font-family="'Liberation Sans', 'DejaVu Sans', sans-serif" font-size="6.8" font-weight="bold" fill="#2222dd" stroke="#2222dd" stroke-width="0.1">0</text>
<line x1="510.6" y1="271.3" x2="508.6" y2="271.3" stroke="#6f6fff" stroke-width="0.7"/>
<text x="513.6" y="300.3" font-family="'Liberation Sans', 'DejaVu Sans', sans-serif" font-size="6.8" font-weight="bold" fill="#2222dd" stroke="#2222dd" stroke-width="0.1">-20</text>
<line x1="510.6" y1="298" x2="508.6" y2="298" stroke="#6f6fff" stroke-width="0.7"/>
<text x="513.6" y="327" font-family="'Liberation Sans', 'DejaVu Sans', sans-serif" font-size="6.8" font-weight="bold" fill="#2222dd" stroke="#2222dd" stroke-width="0.1">-40</text>
<line x1="510.6" y1="324.7" x2="508.6" y2="324.7" stroke="#6f6fff" stroke-width="0.7"/>
<text x="513.6" y="353.7" font-family="'Liberation Sans', 'DejaVu Sans', sans-serif" font-size="6.8" font-weight="bold" fill="#2222dd" stroke="#2222dd" stroke-width="0.1">-60</text>
<line x1="510.6" y1="351.4" x2="508.6" y2="351.4" stroke="#6f6fff" stroke-width="0.7"/>
<text x="513.6" y="380.3" font-family="'Liberation Sans', 'DejaVu Sans', sans-serif" font-size="6.8" font-weight="bold" fill="#2222dd" stroke="#2222dd" stroke-width="0.1">-80</text>
<line x1="510.6" y1="378" x2="508.6" y2="378" stroke="#6f6fff" stroke-width="0.7"/>
<text transform="translate(315.5,105.5) rotate(-90)" font-family="'Liberation Serif', 'DejaVu Serif', serif" font-size="17.5" fill="#000" text-anchor="middle">PMT (V)</text>
<text transform="translate(319.2,327.5) rotate(-90)" font-family="'Liberation Serif', 'DejaVu Serif', serif" font-size="17.5" fill="#000" text-anchor="middle">PMT (V)</text>
<text transform="translate(544.6,111) rotate(-90)" font-family="'Liberation Serif', 'DejaVu Serif', serif" font-size="17.5" fill="#1a1aee" text-anchor="middle">Height (nm)</text>
<text transform="translate(544.3,327) rotate(-90)" font-family="'Liberation Serif', 'DejaVu Serif', serif" font-size="17.5" fill="#1a1aee" text-anchor="middle">Height (nm)</text>
<text x="431.3" y="201.7" font-family="'Liberation Serif', 'DejaVu Serif', serif" font-size="19.3" fill="#000" text-anchor="middle">Position (μm)</text>
<text x="430.5" y="419.6" font-family="'Liberation Serif', 'DejaVu Serif', serif" font-size="19.3" fill="#000" text-anchor="middle">Position (μm)</text>
<polyline points="341.5,115.34 342,114.23 342.5,113.21 343,112.32 343.5,111.54 344,110.86 344.5,110.79 345,110.75 345.5,110.72 346,110.64 346.5,110.49 347,110.23 347.5,109.86 348,109.37 348.5,110.28 349,109.21 349.5,108.01 350,106.8 350.5,105.7 351,104.82 351.5,104.25 352,104.03 352.5,104.38 353,105.04 353.5,105.94 354,106.98 354.5,108.04 355,108.99 355.5,109.73 356,110.17 356.5,110.26 357,110 357.5,109.42 358,108.59 358.5,107.62 359,106.62 359.5,105.72 360,105.03 360.5,104.67 361,104.66 361.5,105.01 362,105.67 362.5,106.59 363,107.66 363.5,108.77 364,109.79 364.5,110.6 365,111.13 365.5,111.32 366,111.15 366.5,110.65 367,109.9 367.5,108.98 368,108.03 368.5,107.15 369,106.46 369.5,106.06 370,106 370.5,106.31 371,106.94 371.5,107.84 372,108.9 372.5,110.02 373,111.07 373.5,111.92 374,112.51 374.5,112.75 375,112.64 375.5,112.19 376,111.48 376.5,110.44 377,109.34 377.5,108.31 378,107.45 378.5,106.87 379,106.63 379.5,106.73 380,107.18 380.5,107.9 381,108.8 381.5,109.77 382,110.69 382.5,111.44 383,111.91 383.5,112.06 384,111.85 384.5,111.14 385,110.16 385.5,108.98 386,107.72 386.5,106.51 387,105.47 387.5,104.68 388,104.23 388.5,104.13 389,104.37 389.5,104.89 390,105.62 390.5,106.43 391,107.2 391.5,107.82 392,108.18 392.5,108.21 393,107.89 393.5,107.36 394,106.53 394.5,105.5 395,104.38 395.5,103.29 396,102.34 396.5,101.64 397,101.27 397.5,101.24 398,101.57 398.5,102.19 399,103.02 399.5,103.95 400,104.87 400.5,105.64 401,106.17 401.5,106.73 402,106.93 402.5,106.78 403,106.34 403.5,105.68 404,104.9 404.5,104.14 405,103.51 405.5,103.12 406,103.03 406.5,103.31 407,103.93 407.5,104.85 408,106.01 408.5,107.28 409,108.54 409.5,109.69 410,110.6 410.5,111.15 411,111.35 411.5,111.19 412,110.73 412.5,110.03 413,109.21 413.5,108.39 414,107.68 414.5,107.19 415,107 415.5,107.17 416,107.69 416.5,108.52 417,109.59 417.5,110.8 418,112.02 418.5,113.13 419,114.02 419.5,114.46 420,114.54 420.5,114.27 421,113.68 421.5,112.85 422,111.88 422.5,110.88 423,109.99 423.5,109.3 424,108.91 424.5,108.86 425,109.17 425.5,109.79 426,110.67 426.5,111.7 427,112.77 427.5,113.53 428,114.09 428.5,114.36 429,114.29 429.5,113.87 430,113.11 430.5,112.1 431,110.94 431.5,109.73 432,108.61 432.5,107.68 433,107.03 433.5,106.73 434,106.78 434.5,107.16 435,107.81 435.5,108.62 436,109.47 436.5,110.26 437,110.85 437.5,111.37 438,111.55 438.5,111.37 439,110.86 439.5,110.08 440,109.13 440.5,108.12 441,107.18 441.5,106.42 442,105.93 442.5,105.78 443,105.98 443.5,106.52 444,107.33 444.5,108.32 445,109.38 445.5,110.38 446,111.21 446.5,111.77 447,112 447.5,111.86 448,111.39 448.5,110.64 449,109.7 449.5,108.69 450,107.72 450.5,106.92 451,106.38 451.5,106.18 452,106.32 452.5,106.81 453,107.59 453.5,108.55 454,109.61 454.5,110.62 455,111.47 455.5,112.07 456,112.34 456.5,112.25 457,111.83 457.5,111.11 458,110.19 458.5,109.18 459,108.2 459.5,107.37 460,106.79 460.5,106.41 461,106.39 461.5,106.72 462,107.34 462.5,108.16 463,109.09 463.5,110 464,110.76 464.5,111.28 465,111.48 465.5,111.32 466,110.82 466.5,110.02 467,109.01 467.5,107.88 468,106.77 468.5,105.79 469,105.06 469.5,104.63 470,104.56 470.5,104.89 471,105.52 471.5,106.38 472,107.35 472.5,108.31 473,109.15 473.5,109.76 474,110.06 474.5,110 475,109.6 475.5,108.89 476,107.94 476.5,106.88 477,105.81 477.5,104.85 478,104.13 478.5,103.71 479,103.63 479.5,103.92 480,104.51 480.5,105.36 481,106.35 481.5,107.35 482,108.24 482.5,108.91 483,109.28 483.5,109.3 484,108.97 484.5,108.32 485,107.43 485.5,106.4 486,105.34 486.5,104.39 487,103.66 487.5,103.21 488,103.12 488.5,103.37 489,103.95 489.5,104.78 490,105.76 490.5,106.81 491,107.77 491.5,108.53 492,108.99 492.5,109.12 493,108.88 493.5,108.32 494,107.51 494.5,106.54 495,105.53 495.5,104.61 496,103.89 496.5,103.45 497,103.35 497.5,103.61 498,104.2 498.5,105.05 499,106.06 499.5,107.12 500,108.1 500.5,108.87 501,109.35 501.5,109.5 502,109.29 502.5,108.75 503,107.94 503.5,106.96 504,105.93 504.5,104.96 505,104.18 505.5,103.67 506,103.5 506.5,103.69 507,104.2 507.5,105 508,105.97 508.5,107 509,107.98 509.5,108.77 510,109.3" fill="none" stroke="#262626" stroke-width="2.6" stroke-linejoin="round"/>
<line x1="349" y1="102.5" x2="367.8" y2="102.5" stroke="#111" stroke-width="1"/>
<polygon points="341.3,102.5 349.8,98.5 349.8,106.4" fill="#000"/>
<polyline points="341.7,81.03 342.4,76.27 343.1,75.07 343.8,75.72 344.5,75.85 345.2,72.04 345.9,68.93 346.6,67.28 347.3,67.54 348,65.35 348.7,64.53 349.4,64.89 350.1,64.67 350.8,64.33 351.5,62.94 352.2,63.22 352.9,59.74 353.6,60.58 354.3,59.32 355,59.27 355.7,59.56 356.4,59.49 357.1,60.2 357.8,59.96 358.5,58.86 359.2,60.03 359.9,58.21 360.6,56.86 361.3,56.01 362,56.92 362.7,58.21 363.4,57.17 364.1,57.38 364.8,59.35 365.5,58.28 366.2,59.4 366.9,58.07 367.6,57.99 368.3,57.05 369,58.01 369.7,58.4 370.4,59.2 371.1,61.44 371.8,60.59 372.5,61.74 373.2,60.3 373.9,61.36 374.6,60.7 375.3,61.25 376,59.28 376.7,59.92 377.4,59.24 378.1,59.89 378.8,63.62 379.5,68.19 380.2,72.34 380.9,75.16 381.6,77.94 382.3,80.37 383,81.54 383.7,83.06 384.4,85.95 385.1,88.73 385.8,91.01 386.5,95.25 387.2,96.54 387.9,100.09 388.6,102.11 389.3,105.58 390,107.65 390.7,108.5 391.4,111.52 392.1,113.76 392.8,114.8 393.5,117.02 394.2,119.45 394.9,122.36 395.6,122.94 396.3,126.01 397,127.87 397.7,129.62 398.4,131.08 399.1,132.77 399.8,132.5 400.5,134.89 401.2,134.74 401.9,136.46 402.6,137.52 403.3,137.06 404,139.35 404.7,140.54 405.4,140.08 406.1,140.46 406.8,141.56 407.5,144.22 408.2,143.13 408.9,145.75 409.6,145.06 410.3,147.05 411,146.6 411.7,147.57 412.4,149.41 413.1,149.03 413.8,150.34 414.5,152.3 415.2,152.7 415.9,153.84 416.6,154.84 417.3,153.57 418,154.57 418.7,156.27 419.4,156.66 420.1,155.95 420.8,157.47 421.5,157.46 422.2,158.31 422.9,158.12 423.6,158.41 424.3,160.8 425,159.91 425.7,161.49 426.4,160.35 427.1,161.44 427.8,161.09 428.5,162.04 429.2,161.9 429.9,163.27 430.6,162.28 431.3,163.18 432,162.43 432.7,161.38 433.4,161.58 434.1,161.59 434.8,161.19 435.5,158.8 436.2,157.29 436.9,158.38 437.6,158.14 438.3,157.76 439,156.76 439.7,156.5 440.4,156.59 441.1,156.04 441.8,155.29 442.5,155.52 443.2,154.62 443.9,154.21 444.6,153.13 445.3,151.72 446,152.54 446.7,152.01 447.4,151.32 448.1,150.86 448.8,150.68 449.5,150.8 450.2,150.05 450.9,149.04 451.6,147.7 452.3,146.84 453,146.34 453.7,146.75 454.4,144.87 455.1,143.49 455.8,141.89 456.5,139.71 457.2,139.77 457.9,135.96 458.6,135.26 459.3,134 460,130.76 460.7,129.6 461.4,127.29 462.1,125.18 462.8,123.26 463.5,121.26 464.2,120.49 464.9,118 465.6,115.88 466.3,111.79 467,110.73 467.7,107.67 468.4,105.99 469.1,103.48 469.8,100.69 470.5,99.34 471.2,94.6 471.9,93.29 472.6,90.21 473.3,86.02 474,82.68 474.7,79.89 475.4,75.57 476.1,75.66 476.8,75.19 477.5,73.76 478.2,73.72 478.9,71.89 479.6,70.75 480.3,69.53 481,66.1 481.7,61.98 482.4,61.68 483.1,60.59 483.8,59.03 484.5,58.89 485.2,58.11 485.9,59.64 486.6,59.02 487.3,59.77 488,59.69 488.7,60.12 489.4,60.12 490.1,60.48 490.8,62.57 491.5,62.29 492.2,62.91 492.9,63.84 493.6,65.33 494.3,65.1 495,65.88 495.7,68.12 496.4,68.35 497.1,69.66 497.8,70.98 498.5,71.53 499.2,70.55 499.9,67.99 500.6,67.74 501.3,67.73 502,66.94 502.7,64.85 503.4,64.21 504.1,63.7 504.8,62.71 505.5,62.51 506.2,62.71 506.9,61.44 507.6,60.61 508.3,56.53 509,53.61 509.7,53.48" fill="none" stroke="#2323f8" stroke-width="1.9" stroke-linejoin="round"/>
<path d="M340.5,79.83l2.4,2.4m0,-2.4l-2.4,2.4M342.4,73.48v5.6M341.9,73.87l2.4,2.4m0,-2.4l-2.4,2.4M343.3,74.65l2.4,2.4m0,-2.4l-2.4,2.4M345.2,69.81v4.47M344.7,67.73l2.4,2.4m0,-2.4l-2.4,2.4M346.1,66.34l2.4,2.4m0,-2.4l-2.4,2.4M348,63.05v4.6M347.5,63.33l2.4,2.4m0,-2.4l-2.4,2.4M348.9,63.47l2.4,2.4m0,-2.4l-2.4,2.4M350.8,61.3v6.07M350.3,61.74l2.4,2.4m0,-2.4l-2.4,2.4M351.7,58.54l2.4,2.4m0,-2.4l-2.4,2.4M353.6,57.63v5.89M353.1,58.12l2.4,2.4m0,-2.4l-2.4,2.4M354.5,58.36l2.4,2.4m0,-2.4l-2.4,2.4M356.4,57.94v3.09M355.9,59l2.4,2.4m0,-2.4l-2.4,2.4M357.3,57.66l2.4,2.4m0,-2.4l-2.4,2.4M359.2,57.27v5.53M358.7,57.01l2.4,2.4m0,-2.4l-2.4,2.4M360.1,54.81l2.4,2.4m0,-2.4l-2.4,2.4M362,54.87v4.09M361.5,57.01l2.4,2.4m0,-2.4l-2.4,2.4M362.9,56.18l2.4,2.4m0,-2.4l-2.4,2.4M364.8,56.96v4.8M364.3,57.08l2.4,2.4m0,-2.4l-2.4,2.4M365.7,56.87l2.4,2.4m0,-2.4l-2.4,2.4M367.6,56.24v3.49M367.1,55.85l2.4,2.4m0,-2.4l-2.4,2.4M368.5,57.2l2.4,2.4m0,-2.4l-2.4,2.4M370.4,57.15v4.11M369.9,60.24l2.4,2.4m0,-2.4l-2.4,2.4M371.3,60.54l2.4,2.4m0,-2.4l-2.4,2.4M373.2,58.32v3.96M372.7,60.16l2.4,2.4m0,-2.4l-2.4,2.4M374.1,60.05l2.4,2.4m0,-2.4l-2.4,2.4M376,57.2v4.15M375.5,58.72l2.4,2.4m0,-2.4l-2.4,2.4M376.9,58.69l2.4,2.4m0,-2.4l-2.4,2.4M378.8,62.38v2.48M378.3,66.99l2.4,2.4m0,-2.4l-2.4,2.4M379.7,73.96l2.4,2.4m0,-2.4l-2.4,2.4M381.6,76.28v3.32M381.1,79.17l2.4,2.4m0,-2.4l-2.4,2.4M382.5,81.86l2.4,2.4m0,-2.4l-2.4,2.4M384.4,83.44v5.02M383.9,87.53l2.4,2.4m0,-2.4l-2.4,2.4M385.3,94.05l2.4,2.4m0,-2.4l-2.4,2.4M387.2,95.21v2.67M386.7,98.89l2.4,2.4m0,-2.4l-2.4,2.4M388.1,104.38l2.4,2.4m0,-2.4l-2.4,2.4M390,106.04v3.22M389.5,107.3l2.4,2.4m0,-2.4l-2.4,2.4M390.9,112.56l2.4,2.4m0,-2.4l-2.4,2.4M392.8,111.95v5.7M392.3,115.82l2.4,2.4m0,-2.4l-2.4,2.4M393.7,121.16l2.4,2.4m0,-2.4l-2.4,2.4M395.6,121.1v3.66M395.1,124.81l2.4,2.4m0,-2.4l-2.4,2.4M396.5,128.42l2.4,2.4m0,-2.4l-2.4,2.4M398.4,129.14v3.89M397.9,131.57l2.4,2.4m0,-2.4l-2.4,2.4M399.3,133.69l2.4,2.4m0,-2.4l-2.4,2.4M401.2,132.98v3.51M400.7,135.26l2.4,2.4m0,-2.4l-2.4,2.4M402.1,135.86l2.4,2.4m0,-2.4l-2.4,2.4M404,136.24v6.24M403.5,139.34l2.4,2.4m0,-2.4l-2.4,2.4M404.9,139.26l2.4,2.4m0,-2.4l-2.4,2.4M406.8,140.15v2.82M406.3,143.02l2.4,2.4m0,-2.4l-2.4,2.4M407.7,144.55l2.4,2.4m0,-2.4l-2.4,2.4M409.6,142.39v5.33M409.1,145.85l2.4,2.4m0,-2.4l-2.4,2.4M410.5,146.37l2.4,2.4m0,-2.4l-2.4,2.4M412.4,146.24v6.35M411.9,147.83l2.4,2.4m0,-2.4l-2.4,2.4M413.3,151.1l2.4,2.4m0,-2.4l-2.4,2.4M415.2,151.04v3.33M414.7,152.64l2.4,2.4m0,-2.4l-2.4,2.4M416.1,152.37l2.4,2.4m0,-2.4l-2.4,2.4M418,152.39v4.35M417.5,155.07l2.4,2.4m0,-2.4l-2.4,2.4M418.9,154.75l2.4,2.4m0,-2.4l-2.4,2.4M420.8,154.45v6.04M420.3,156.26l2.4,2.4m0,-2.4l-2.4,2.4M421.7,156.92l2.4,2.4m0,-2.4l-2.4,2.4M423.6,155.78v5.24M423.1,159.6l2.4,2.4m0,-2.4l-2.4,2.4M424.5,160.29l2.4,2.4m0,-2.4l-2.4,2.4M426.4,158.29v4.11M425.9,160.24l2.4,2.4m0,-2.4l-2.4,2.4M427.3,160.84l2.4,2.4m0,-2.4l-2.4,2.4M429.2,160.59v2.6M428.7,162.07l2.4,2.4m0,-2.4l-2.4,2.4M430.1,161.98l2.4,2.4m0,-2.4l-2.4,2.4M432,160.21v4.44M431.5,160.18l2.4,2.4m0,-2.4l-2.4,2.4M432.9,160.39l2.4,2.4m0,-2.4l-2.4,2.4M434.8,159.15v4.09M434.3,157.6l2.4,2.4m0,-2.4l-2.4,2.4M435.7,157.18l2.4,2.4m0,-2.4l-2.4,2.4M437.6,155.3v5.68M437.1,156.56l2.4,2.4m0,-2.4l-2.4,2.4M438.5,155.3l2.4,2.4m0,-2.4l-2.4,2.4M440.4,154.72v3.76M439.9,154.84l2.4,2.4m0,-2.4l-2.4,2.4M441.3,154.32l2.4,2.4m0,-2.4l-2.4,2.4M443.2,152.48v4.28M442.7,153.01l2.4,2.4m0,-2.4l-2.4,2.4M444.1,150.52l2.4,2.4m0,-2.4l-2.4,2.4M446,149.85v5.38M445.5,150.81l2.4,2.4m0,-2.4l-2.4,2.4M446.9,149.66l2.4,2.4m0,-2.4l-2.4,2.4M448.8,147.62v6.13M448.3,149.6l2.4,2.4m0,-2.4l-2.4,2.4M449.7,147.84l2.4,2.4m0,-2.4l-2.4,2.4M451.6,145.69v4.02M451.1,145.64l2.4,2.4m0,-2.4l-2.4,2.4M452.5,145.55l2.4,2.4m0,-2.4l-2.4,2.4M454.4,142.79v4.17M453.9,142.29l2.4,2.4m0,-2.4l-2.4,2.4M455.3,138.51l2.4,2.4m0,-2.4l-2.4,2.4M457.2,137.24v5.06M456.7,134.76l2.4,2.4m0,-2.4l-2.4,2.4M458.1,132.8l2.4,2.4m0,-2.4l-2.4,2.4M460,127.44v6.65M459.5,128.4l2.4,2.4m0,-2.4l-2.4,2.4M460.9,123.98l2.4,2.4m0,-2.4l-2.4,2.4M462.8,121.62v3.28M462.3,120.06l2.4,2.4m0,-2.4l-2.4,2.4M463.7,116.8l2.4,2.4m0,-2.4l-2.4,2.4M465.6,112.45v6.87M465.1,110.59l2.4,2.4m0,-2.4l-2.4,2.4M466.5,106.47l2.4,2.4m0,-2.4l-2.4,2.4M468.4,103.16v5.67M467.9,102.28l2.4,2.4m0,-2.4l-2.4,2.4M469.3,98.14l2.4,2.4m0,-2.4l-2.4,2.4M471.2,92.55v4.11M470.7,92.09l2.4,2.4m0,-2.4l-2.4,2.4M472.1,84.82l2.4,2.4m0,-2.4l-2.4,2.4M474,79.95v5.46M473.5,78.69l2.4,2.4m0,-2.4l-2.4,2.4M474.9,74.46l2.4,2.4m0,-2.4l-2.4,2.4M476.8,73.23v3.92M476.3,72.56l2.4,2.4m0,-2.4l-2.4,2.4M477.7,70.69l2.4,2.4m0,-2.4l-2.4,2.4M479.6,69.39v2.73M479.1,68.33l2.4,2.4m0,-2.4l-2.4,2.4M480.5,60.78l2.4,2.4m0,-2.4l-2.4,2.4M482.4,58.74v5.88M481.9,59.39l2.4,2.4m0,-2.4l-2.4,2.4M483.3,57.69l2.4,2.4m0,-2.4l-2.4,2.4M485.2,56.03v4.15M484.7,58.44l2.4,2.4m0,-2.4l-2.4,2.4M486.1,58.57l2.4,2.4m0,-2.4l-2.4,2.4M488,57.28v4.82M487.5,58.92l2.4,2.4m0,-2.4l-2.4,2.4M488.9,59.28l2.4,2.4m0,-2.4l-2.4,2.4M490.8,60.23v4.68M490.3,61.09l2.4,2.4m0,-2.4l-2.4,2.4M491.7,62.64l2.4,2.4m0,-2.4l-2.4,2.4M493.6,62.05v6.55M493.1,63.9l2.4,2.4m0,-2.4l-2.4,2.4M494.5,66.92l2.4,2.4m0,-2.4l-2.4,2.4M496.4,65.41v5.88M495.9,68.46l2.4,2.4m0,-2.4l-2.4,2.4M497.3,70.33l2.4,2.4m0,-2.4l-2.4,2.4M499.2,69.3v2.52M498.7,66.79l2.4,2.4m0,-2.4l-2.4,2.4M500.1,66.53l2.4,2.4m0,-2.4l-2.4,2.4M502,64.37v5.13M501.5,63.65l2.4,2.4m0,-2.4l-2.4,2.4M502.9,62.5l2.4,2.4m0,-2.4l-2.4,2.4M504.8,60.44v4.53M504.3,61.31l2.4,2.4m0,-2.4l-2.4,2.4M505.7,60.24l2.4,2.4m0,-2.4l-2.4,2.4M507.6,58.34v4.53M507.1,55.33l2.4,2.4m0,-2.4l-2.4,2.4M508.5,52.28l2.4,2.4m0,-2.4l-2.4,2.4" fill="none" stroke="#2a2af8" stroke-width="0.8"/>
<line x1="474" y1="84.8" x2="492" y2="84.8" stroke="#1f1ff5" stroke-width="1.3"/>
<polygon points="500.4,84.8 491.5,80.8 491.5,88.8" fill="#1f1ff5"/>
<polyline points="342.6,273.67 343.6,273.22 344.6,273.15 345.6,273.37 346.6,272.9 347.6,272.48 348.6,271.81 349.6,271.38 350.6,270.59 351.6,270.16 352.6,269.4 353.6,268.63 354.6,269.24 355.6,269.62 356.6,270.28 357.6,270.77 358.6,270.76 359.6,271.36 360.6,271.76 361.6,272.85 362.6,272.76 363.6,273.23 364.6,274.22 365.6,274.24 366.6,274 367.6,274.68 368.6,274.87 369.6,274.86 370.6,274.69 371.6,275.25 372.6,274.03 373.6,273.17 374.6,272.5 375.6,271.95 376.6,272 377.6,271.92 378.6,274.59 379.6,277.26 380.6,280.78 381.6,285.66 382.6,288.85 383.6,292.4 384.6,295.99 385.6,299.5 386.6,304.03 387.6,307.83 388.6,311.4 389.6,314.75 390.6,317.88 391.6,321.5 392.6,324.99 393.6,327.94 394.6,330.99 395.6,332.8 396.6,334.97 397.6,337.07 398.6,339.68 399.6,341.51 400.6,342.93 401.6,344.31 402.6,345.74 403.6,346.92 404.6,348.33 405.6,348.83 406.6,350.39 407.6,351.08 408.6,351.66 409.6,352.86 410.6,354.03 411.6,354.93 412.6,356.05 413.6,356.86 414.6,357.82 415.6,359.24 416.6,360.3 417.6,362.41 418.6,364.26 419.6,365.86 420.6,367.26 421.6,368.98 422.6,369.92 423.6,371 424.6,370.68 425.6,371.31 426.6,371.31 427.6,370.33 428.6,370.47 429.6,369.33 430.6,369.24 431.6,368.4 432.6,368.37 433.6,367.34 434.6,366.8 435.6,365.82 436.6,365.22 437.6,364.48 438.6,363.24 439.6,361.92 440.6,361.18 441.6,359.38 442.6,358.75 443.6,356.94 444.6,355.46 445.6,353.72 446.6,352.53 447.6,350.93 448.6,348.76 449.6,347.22 450.6,345.15 451.6,343.88 452.6,341.93 453.6,339.72 454.6,337.86 455.6,336.58 456.6,334.24 457.6,332.89 458.6,330.47 459.6,328.44 460.6,326.73 461.6,324.54 462.6,322.65 463.6,319.35 464.6,316.98 465.6,313.53 466.6,310.96 467.6,307.4 468.6,304.87 469.6,301.97 470.6,298.46 471.6,295.13 472.6,291.98 473.6,288.77 474.6,285.02 475.6,282.82 476.6,280.1 477.6,278.04 478.6,275.9 479.6,273.71 480.6,272.59 481.6,270.81 482.6,270.05 483.6,268.16 484.6,268.12 485.6,267.66 486.6,268.15 487.6,269.41 488.6,270.81 489.6,271.32 490.6,271.81 491.6,271.78 492.6,272.3 493.6,271.81 494.6,271.74 495.6,271.3 496.6,270.35 497.6,269.54 498.6,268.21 499.6,267.29 500.6,266.4 501.6,265.86 502.6,264.78 503.6,265.64 504.6,268.14 505.6,265.39 506.6,263.8 507.6,263.65 508.6,265.1 509.6,265.07" fill="none" stroke="#2020f0" stroke-width="2.1" stroke-linejoin="round"/>
<polyline points="342.9,354.17 343.6,352.95 344.3,353.24 345,353.25 345.7,352.72 346.4,353.37 347.1,352.18 347.8,352.66 348.5,351.28 349.2,350.35 349.9,351.2 350.6,350.54 351.3,351.43 352,351.95 352.7,351.75 353.4,351.16 354.1,350.01 354.8,350.39 355.5,349.25 356.2,349.75 356.9,348.44 357.6,348.92 358.3,349.11 359,349.73 359.7,350.8 360.4,350.53 361.1,351.06 361.8,352.56 362.5,351.71 363.2,352.76 363.9,352.23 364.6,350.87 365.3,349.6 366,348.81 366.7,349.44 367.4,348.44 368.1,349.55 368.8,350.08 369.5,349.82 370.2,350.88 370.9,350.43 371.6,351.06 372.3,351.01 373,350.47 373.7,349.49 374.4,349.14 375.1,348.1 375.8,347.27 376.5,346.76 377.2,347.13 377.9,345.8 378.6,345.9 379.3,344.64 380,346.45 380.7,345.22 381.4,345.27 382.1,344.44 382.8,344.18 383.5,342.94 384.2,344.53 384.9,344.21 385.6,345.1 386.3,344.67 387,344.97 387.7,344.86 388.4,343.53 389.1,342.06 389.8,338.19 390.5,336.53 391.2,329.12 391.9,322.73 392.6,315.61 393.3,309.48 394,302.96 394.7,300.53 395.4,298.64 396.1,297.43 396.8,293.97 397.5,293.09 398.2,291.35 398.9,289.83 399.6,287.63 400.3,287.03 401,285.04 401.7,284.42 402.4,281.47 403.1,281.65 403.8,279.35 404.5,277.94 405.2,276 405.9,275 406.6,274.89 407.3,273.86 408,272.02 408.7,271.41 409.4,269.99 410.1,268.69 410.8,267.32 411.5,266.11 412.2,265.81 412.9,264.58 413.6,263.29 414.3,261.82 415,260.91 415.7,260.45 416.4,259.8 417.1,258.85 417.8,257.97 418.5,256.54 419.2,256.58 419.9,256.27 420.6,255.48 421.3,253.8 422,254.5 422.7,253.5 423.4,253.06 424.1,254.88 424.8,254.85 425.5,255.43 426.2,254.85 426.9,256.43 427.6,256.85 428.3,257.04 429,257.01 429.7,257.39 430.4,257.65 431.1,257.75 431.8,257.94 432.5,259.06 433.2,259.45 433.9,259.87 434.6,258.68 435.3,259.58 436,258.63 436.7,259.12 437.4,257.71 438.1,259.74 438.8,260 439.5,259.67 440.2,261.32 440.9,261.15 441.6,262.2 442.3,264.06 443,265.11 443.7,266.97 444.4,269.1 445.1,270.14 445.8,271.61 446.5,272.49 447.2,274.58 447.9,276.27 448.6,277.8 449.3,279.95 450,281.47 450.7,282.5 451.4,283.73 452.1,286.47 452.8,288.55 453.5,289.58 454.2,292.49 454.9,295.37 455.6,297.77 456.3,298.9 457,302.13 457.7,303.72 458.4,306.28 459.1,309.86 459.8,311.78 460.5,314.94 461.2,317.54 461.9,320.18 462.6,322.82 463.3,325.88 464,329.54 464.7,331.98 465.4,334.24 466.1,335.48 466.8,337.17 467.5,339.28 468.2,340.21 468.9,341.6 469.6,342.38 470.3,341.74 471,343.22 471.7,342.66 472.4,344.51 473.1,343.96 473.8,344.63 474.5,346.33 475.2,345.72 475.9,345.83 476.6,347.31 477.3,347.19 478,348.02 478.7,347.52 479.4,348.05 480.1,349.17 480.8,348.74 481.5,349.73 482.2,348.54 482.9,349.8 483.6,348.84 484.3,349.63 485,348.91 485.7,349.38 486.4,350.86 487.1,350.2 487.8,350.97 488.5,350.19 489.2,350.54 489.9,350.28 490.6,351.22 491.3,351.92 492,351.5 492.7,351.44 493.4,352.51 494.1,352.57 494.8,352.3 495.5,351.41 496.2,352.45 496.9,352.26 497.6,353.25 498.3,352.36 499,352.98 499.7,353.05 500.4,352.73 501.1,353.09 501.8,353.47 502.5,353.99 503.2,353.43 503.9,353.33 504.6,354.5 505.3,353.08 506,354.53 506.7,354.41 507.4,354.33 508.1,354.27 508.8,354.92 509.5,355.29 510.2,355.15" fill="none" stroke="#2a2218" stroke-width="1.9" stroke-linejoin="round"/>
<line x1="347.6" y1="241.3" x2="366" y2="241.3" stroke="#111" stroke-width="0.9"/>
<polygon points="374.6,241.3 365.6,237.1 365.6,245.6" fill="#000"/>
<line x1="396" y1="241.3" x2="407.6" y2="241.3" stroke="#111" stroke-width="0.9"/>
<polygon points="386.4,241.3 395.6,237.1 395.6,245.6" fill="#000"/>
<line x1="385.8" y1="236" x2="385.8" y2="342" stroke="#111" stroke-width="1" stroke-dasharray="3 2"/>
<line x1="342.6" y1="305" x2="425.6" y2="305" stroke="#111" stroke-width="1" stroke-dasharray="3 2"/>
<text x="414.8" y="242" font-family="'Liberation Serif', 'DejaVu Serif', serif" font-size="13.2" fill="#000">3.2 μm</text>
<line x1="368.3" y1="282" x2="368.3" y2="296" stroke="#111" stroke-width="0.9" stroke-dasharray="1 1"/>
<polygon points="368.3,274 364.8,282.2 371.8,282.2" fill="#000"/>
<polygon points="368.3,304.4 364.8,295.6 371.8,295.6" fill="#000"/>
<text transform="translate(353.3,287.2) rotate(-90)" font-family="'Liberation Serif', 'DejaVu Serif', serif" font-size="13" fill="#000" stroke="#000" stroke-width="0.25" text-anchor="middle">23.87</text>
<text transform="translate(364.5,287.5) rotate(-90)" font-family="'Liberation Serif', 'DejaVu Serif', serif" font-size="13" fill="#000" stroke="#000" stroke-width="0.25" text-anchor="middle">nm</text>
<line x1="423.8" y1="313" x2="423.8" y2="361" stroke="#111" stroke-width="0.9" stroke-dasharray="1 1"/>
<line x1="427.3" y1="313" x2="427.3" y2="361" stroke="#111" stroke-width="0.9" stroke-dasharray="1 1"/>
<polygon points="425.8,305.3 421.6,313.8 430,313.8" fill="#000"/>
<polygon points="425.8,368.5 421.6,359.8 430,359.8" fill="#000"/>
<text transform="translate(421.6,336.2) rotate(-90)" font-family="'Liberation Serif', 'DejaVu Serif', serif" font-size="13" fill="#000" stroke="#000" stroke-width="0.25" text-anchor="middle">51.93 nm</text>
<line x1="358" y1="353.9" x2="376.2" y2="353.9" stroke="#555" stroke-width="1.3"/>
<polygon points="350.5,353.3 358.7,348.3 358.7,358.2" fill="#000"/>
<line x1="482.6" y1="279.2" x2="501.5" y2="279.2" stroke="#1f1ff5" stroke-width="1.3"/>
<polygon points="509.8,279.2 501,274.8 501,284" fill="#1f1ff5"/></svg></body></html>
